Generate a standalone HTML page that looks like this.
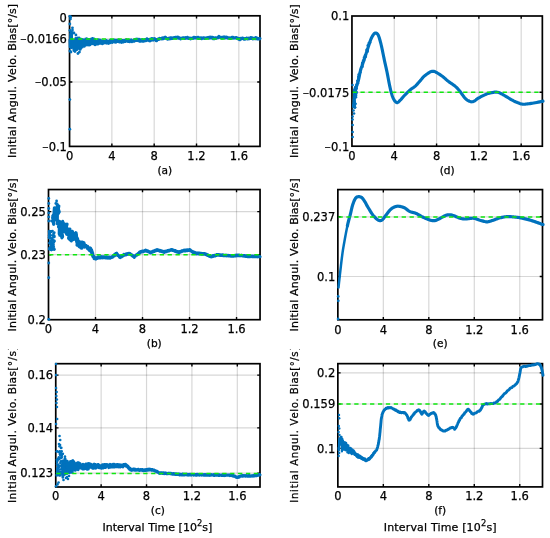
<!DOCTYPE html>
<html lang="en"><head><meta charset="utf-8"><title>Initial angular velocity bias estimation</title>
<style>
html,body{margin:0;padding:0;background:#fff;}
body{width:550px;height:538px;overflow:hidden;font-family:"DejaVu Sans", "Liberation Sans", sans-serif;}
svg{display:block;}
text{white-space:pre;stroke:#000;stroke-width:.25px;}
</style></head><body>
<svg width="550" height="538" viewBox="0 0 550 538" font-family='"DejaVu Sans", "Liberation Sans", sans-serif' fill="#000">
<defs><clipPath id="clipc"><rect x="0" y="349.5" width="550" height="200"/></clipPath></defs>
<g stroke="#000" stroke-opacity="0.155" stroke-width="1.2" fill="none"><line x1="111.87" y1="15.8" x2="111.87" y2="146.4"/><line x1="154.19" y1="15.8" x2="154.19" y2="146.4"/><line x1="196.52" y1="15.8" x2="196.52" y2="146.4"/><line x1="238.84" y1="15.8" x2="238.84" y2="146.4"/><line x1="69.55" y1="38.9" x2="260" y2="38.9"/><line x1="69.55" y1="82" x2="260" y2="82"/></g>
<rect x="69.55" y="15.8" width="190.45" height="130.6" fill="none" stroke="#000" stroke-width="1.7"/>
<path d="M111.87 146.4v-2.8M111.87 15.8v2.8M154.19 146.4v-2.8M154.19 15.8v2.8M196.52 146.4v-2.8M196.52 15.8v2.8M238.84 146.4v-2.8M238.84 15.8v2.8M69.55 38.9h2.8M260 38.9h-2.8M69.55 82h2.8M260 82h-2.8" stroke="#000" stroke-width="1.4" fill="none"/>
<path d="M69.95 39.93 L70.2 47.11 L70.45 44.62 L70.7 33.25 L70.95 35.78 L71.2 47.71 L71.45 31.88 L71.7 46.95 L71.95 46.84 L72.2 42.04 L72.45 40.18 L72.7 40.75 L72.95 41.12 L73.2 43.5 L73.45 44.25 L73.7 45.05 L73.95 50.48 L74.2 47.83 L74.45 45.75 L74.7 50.54 L74.95 40.68 L75.2 40.1 L75.45 45.78 L75.7 38.45 L75.95 38.41 L76.2 44.54 L76.45 44.04 L76.7 49.69 L76.95 46 L77.2 44.57 L77.45 44.3 L77.7 40.98 L77.95 37.92 L78.2 40.2 L78.45 47.04 L78.7 40.56 L78.95 42.7 L79.2 37.92 L79.45 48.69 L79.7 39.8 L79.95 41.54 L80.2 49.36 L80.45 44.4 L80.7 48.41 L80.95 45.67 L81.2 46.6 L81.45 39.27 L81.7 43.97 L81.95 43.62 L82.2 47.05 L82.45 42.29 L82.7 44.35 L82.95 39.8 L83.2 42.25 L83.45 41.75 L83.7 40.17 L83.95 45.27 L84.2 41.56 L84.45 46.17 L84.7 42.97 L84.95 42.83 L85.2 42.78 L85.45 43.01 L85.7 39.03 L85.95 41.1 L86.2 39.76 L86.45 40.92 L86.7 38.78 L86.95 45 L87.2 39.7 L87.45 42.9 L87.7 40.49 L87.95 44.53 L88.2 43.15 L88.45 39.43 L88.7 44.41 L88.95 45.04 L89.2 44.69 L89.45 42.48 L89.7 39.52 L89.95 39.83 L90.2 44.63 L90.45 41.9 L90.7 39.14 L90.95 43.72 L91.2 42.21 L91.45 41.81 L91.7 40.37 L91.95 40.65 L92.2 39.71 L92.45 38.55 L92.7 43.73 L92.95 41.26 L93.2 41.83 L93.45 40.63 L93.7 43.18 L93.95 38.91 L94.2 41.05 L94.45 39.14 L94.7 39.94 L94.95 44.69 L95.2 42.95 L95.45 41.57 L95.7 42.07 L95.95 44.22 L96.2 41.4 L96.45 42.69 L96.7 43.24 L96.95 41.64 L97.2 42.44 L97.45 43.59 L97.7 44.01 L97.95 40.33 L98.2 43.99 L98.45 39.64 L98.7 43.26 L98.95 43.31 L99.2 40.24 L99.45 41.45 L99.7 43.26 L99.95 39.93 L100.2 42.52 L100.45 43.25 L100.7 42.23 L100.95 43.26 L101.2 41.16 L101.45 41.04 L101.7 41.6 L101.95 40.94 L102.2 41.46 L102.45 43.79 L102.7 42.3 L102.95 41.28 L103.2 40.97 L103.45 43.16 L103.7 41.41 L103.95 43.08 L104.2 41.54 L104.45 41.53 L104.7 42.69 L104.95 42.03 L105.2 41.59 L105.45 41 L105.7 42.45 L105.95 41.26 L106.2 42.92 L106.45 40.52 L106.7 41.62 L106.95 41.8 L107.2 43.11 L107.45 41.28 L107.7 42.65 L107.95 42.46 L108.2 42.54 L108.45 42.51 L108.7 43.34 L108.95 41.35 L109.2 41.36 L109.45 40.92 L109.7 40.46 L109.95 40.92 L110.2 42.68 L110.45 42.15 L110.7 40.47 L110.95 41.68 L111.2 41.38 L111.45 41.54 L111.7 41.76 L111.95 40.91 L112.2 42.4 L112.45 41.11 L112.7 41.59 L112.95 41.44 L113.2 40.52 L113.45 40.36 L113.7 40.99 L113.95 41.84 L114.2 41.92 L114.45 41.6 L114.7 40.09 L114.95 41.97 L115.2 41.88 L115.45 42.01 L115.7 41.16 L115.95 42.17 L116.2 40.17 L116.45 40.22 L116.7 40.29 L116.95 40.61 L117.2 40.57 L117.45 40.56 L117.7 41.35 L117.95 40.17 L118.2 41.1 L118.45 40.41 L118.7 41.36 L118.95 40.13 L119.2 40.83 L119.45 42 L119.7 41.46 L119.95 41.92 L120.2 41.74 L120.45 41.62 L120.7 41.02 L120.95 41.9 L121.2 40.79 L121.45 41.98 L121.7 42.3 L121.95 42.09 L122.2 40.6 L122.45 41.05 L122.7 40.85 L122.95 40.61 L123.2 41.45 L123.45 41.87 L123.7 40.63 L123.95 41.52 L124.2 41.48 L124.45 40.44 L124.7 41.5 L124.95 41.56 L125.2 40.29 L125.45 40.88 L125.7 40.88 L125.95 40.62 L126.2 39.7 L126.45 40.66 L126.7 40.89 L126.95 41.16 L127.2 41.3 L127.45 40.35 L127.7 41.07 L127.95 41.45 L128.2 41.55 L128.45 40.28 L128.7 40.09 L128.95 41.33 L129.2 40.54 L129.45 41.04 L129.7 41.73 L129.95 40.68 L130.2 40.39 L130.45 40.68 L130.7 41.08 L130.95 40.05 L131.2 40.42 L131.45 40.18 L131.7 41.17 L131.95 41.64 L132.2 40.89 L132.45 40.9 L132.7 41.07 L132.95 40.55 L133.2 40.57 L133.45 40.79 L133.7 40.95 L133.95 40.08 L134.2 41.3 L134.45 40.61 L134.7 40.1 L134.95 39.48 L135.2 40.56 L135.45 39.46 L135.7 39.51 L135.95 39.34 L136.2 39.09 L136.45 40.47 L136.7 39.17 L136.95 39.3 L137.2 40.4 L137.45 40.11 L137.7 39.35 L137.95 39.73 L138.2 40.62 L138.45 39.69 L138.7 40.26 L138.95 39.32 L139.2 40.75 L139.45 40.95 L139.7 41.22 L139.95 40.94 L140.2 40.29 L140.45 39.79 L140.7 40.61 L140.95 41.14 L141.2 40.22 L141.45 40.2 L141.7 40.65 L141.95 41.04 L142.2 41.11 L142.45 39.62 L142.7 39.67 L142.95 40.73 L143.2 40.39 L143.45 40.75 L143.7 41.25 L143.95 41.04 L144.2 40.62 L144.45 40.63 L144.7 40.03 L144.95 40.31 L145.2 39.44 L145.45 40.61 L145.7 40.69 L145.95 40.69 L146.2 40.07 L146.45 39.59 L146.7 39.49 L146.95 38.68 L147.2 40.26 L147.45 39.68 L147.7 39.34 L147.95 39.84 L148.2 40.3 L148.45 39.5 L148.7 40.29 L148.95 40.56 L149.2 39.62 L149.45 39.21 L149.7 40.36 L149.95 40.82 L150.2 39.34 L150.45 40.19 L150.7 40.24 L150.95 40.21 L151.2 38.64 L151.45 38.68 L151.7 40.22 L151.95 38.52 L152.2 38.78 L152.45 39.38 L152.7 39.16 L152.95 39.76 L153.2 38.66 L153.45 40.12 L153.7 38.94 L153.95 39.83 L154.2 38.74 L154.45 39.43 L154.7 38.62 L154.95 39.26 L155.2 39.36 L155.45 40.06 L155.7 39.66 L155.95 39.31 L156.2 40.81 L156.45 40.63 L156.7 40.72 L156.95 39.71 L157.2 39.84 L157.45 39.51 L157.7 39.48 L157.95 39.13 L158.2 39.51 L158.45 38.92 L158.7 38.9 L158.95 39.47 L159.2 38.8 L159.45 38.39 L159.7 39.01 L159.95 38.5 L160.2 38.81 L160.45 38.48 L160.7 38.63 L160.95 38.7 L161.2 38.61 L161.45 38.38 L161.7 38.9 L161.95 39 L162.2 38.11 L162.45 37.93 L162.7 37.82 L162.95 38.77 L163.2 38.62 L163.45 37.93 L163.7 38.67 L163.95 37.68 L164.2 37.86 L164.45 37.77 L164.7 38.08 L164.95 37.28 L165.2 37.67 L165.45 37.88 L165.7 37.34 L165.95 37.64 L166.2 37.96 L166.45 38.27 L166.7 38.31 L166.95 38.78 L167.2 38.89 L167.45 39.02 L167.7 39.19 L167.95 38.98 L168.2 38.93 L168.45 38.51 L168.7 38.45 L168.95 38.8 L169.2 38.17 L169.45 38.93 L169.7 38.72 L169.95 38.16 L170.2 38.64 L170.45 37.83 L170.7 38.19 L170.95 37.81 L171.2 38.68 L171.45 38.31 L171.7 38.39 L171.95 37.87 L172.2 38.44 L172.45 38.33 L172.7 37.98 L172.95 38.32 L173.2 37.82 L173.45 37.86 L173.7 38.04 L173.95 38.07 L174.2 37.45 L174.45 37.75 L174.7 37.58 L174.95 37.8 L175.2 37.94 L175.45 37.26 L175.7 37.96 L175.95 37.22 L176.2 38.14 L176.45 37.61 L176.7 37.59 L176.95 37.76 L177.2 37.7 L177.45 37.93 L177.7 37.1 L177.95 37.78 L178.2 37.86 L178.45 38.28 L178.7 37.39 L178.95 37.95 L179.2 38.23 L179.45 38.24 L179.7 37.9 L179.95 38.56 L180.2 38.18 L180.45 38.3 L180.7 38.9 L180.95 38.22 L181.2 38.37 L181.45 38.55 L181.7 38.39 L181.95 38.08 L182.2 38.22 L182.45 37.86 L182.7 37.98 L182.95 38.17 L183.2 38.03 L183.45 37.85 L183.7 37.77 L183.95 37.87 L184.2 37.81 L184.45 38.33 L184.7 38.12 L184.95 38.14 L185.2 38.35 L185.45 37.9 L185.7 37.54 L185.95 38.14 L186.2 37.73 L186.45 38.12 L186.7 38.08 L186.95 37.88 L187.2 38.05 L187.45 37.17 L187.7 37.49 L187.95 38.1 L188.2 37.95 L188.45 38.16 L188.7 38.47 L188.95 38.46 L189.2 38.47 L189.45 38.49 L189.7 38.07 L189.95 38.05 L190.2 38.11 L190.45 38.26 L190.7 38.92 L190.95 38.23 L191.2 38.18 L191.45 38.13 L191.7 38.28 L191.95 38.55 L192.2 38.45 L192.45 37.99 L192.7 38.04 L192.95 38.43 L193.2 37.96 L193.45 38.14 L193.7 37.38 L193.95 38.19 L194.2 37.83 L194.45 37.84 L194.7 37.39 L194.95 37.76 L195.2 38.03 L195.45 37.83 L195.7 37.47 L195.95 38 L196.2 37.7 L196.45 37.72 L196.7 37.93 L196.95 37.49 L197.2 37.51 L197.45 37.99 L197.7 38.1 L197.95 37.26 L198.2 37.94 L198.45 38.36 L198.7 37.92 L198.95 37.63 L199.2 38.28 L199.45 37.78 L199.7 38.26 L199.95 38.16 L200.2 38.5 L200.45 38.1 L200.7 38.31 L200.95 38.28 L201.2 38.43 L201.45 37.83 L201.7 38.74 L201.95 38.01 L202.2 38.12 L202.45 38.21 L202.7 37.98 L202.95 38.12 L203.2 38.24 L203.45 38.02 L203.7 37.72 L203.95 37.64 L204.2 37.88 L204.45 38.3 L204.7 38.06 L204.95 38.53 L205.2 38.17 L205.45 37.99 L205.7 38.12 L205.95 38.25 L206.2 37.91 L206.45 37.95 L206.7 38.12 L206.95 38.1 L207.2 37.68 L207.45 37.84 L207.7 37.89 L207.95 37.4 L208.2 37.4 L208.45 37.52 L208.7 37.48 L208.95 38.21 L209.2 37.31 L209.45 37.51 L209.7 37.37 L209.95 37.59 L210.2 37.06 L210.45 37.58 L210.7 37.42 L210.95 37.47 L211.2 37.99 L211.45 37.23 L211.7 37.9 L211.95 37.76 L212.2 37.82 L212.45 38.13 L212.7 37.35 L212.95 38.37 L213.2 38.64 L213.45 38.47 L213.7 37.86 L213.95 38.46 L214.2 38.29 L214.45 38.69 L214.7 37.93 L214.95 38.46 L215.2 38.41 L215.45 37.78 L215.7 38.14 L215.95 37.83 L216.2 38.29 L216.45 38.19 L216.7 38.16 L216.95 37.69 L217.2 37.71 L217.45 37.5 L217.7 37.46 L217.95 37.68 L218.2 37.21 L218.45 36.74 L218.7 36.88 L218.95 36.42 L219.2 37.32 L219.45 37.27 L219.7 36.95 L219.95 37.5 L220.2 37.5 L220.45 37.19 L220.7 37.13 L220.95 37.31 L221.2 37.38 L221.45 37.52 L221.7 37.66 L221.95 38.11 L222.2 37.2 L222.45 37.83 L222.7 37.73 L222.95 37.86 L223.2 37.4 L223.45 37.11 L223.7 37.74 L223.95 37.11 L224.2 37.08 L224.45 37.85 L224.7 37.66 L224.95 37.01 L225.2 37.15 L225.45 37.93 L225.7 37.39 L225.95 37.56 L226.2 37.3 L226.45 37.79 L226.7 37.17 L226.95 37.81 L227.2 37.47 L227.45 37.92 L227.7 38.15 L227.95 37.68 L228.2 37.82 L228.45 37.99 L228.7 37.95 L228.95 37.93 L229.2 38.15 L229.45 38.01 L229.7 38.43 L229.95 37.93 L230.2 38.42 L230.45 38.3 L230.7 38.41 L230.95 38.02 L231.2 38.22 L231.45 38.28 L231.7 37.77 L231.95 37.3 L232.2 38.01 L232.45 37.86 L232.7 37.44 L232.95 37.91 L233.2 37.37 L233.45 37.67 L233.7 38.08 L233.95 37.69 L234.2 37.83 L234.45 37.9 L234.7 37.66 L234.95 37.78 L235.2 37.87 L235.45 37.94 L235.7 37.62 L235.95 37.91 L236.2 37.65 L236.45 38 L236.7 38.19 L236.95 37.81 L237.2 38.27 L237.45 38.42 L237.7 38.05 L237.95 38.33 L238.2 39.06 L238.45 38.67 L238.7 39.13 L238.95 38.51 L239.2 39.19 L239.45 39.56 L239.7 39.69 L239.95 38.69 L240.2 38.91 L240.45 38.59 L240.7 38.98 L240.95 38.18 L241.2 38.37 L241.45 38.83 L241.7 38.34 L241.95 38.21 L242.2 38.53 L242.45 38.03 L242.7 37.93 L242.95 38.46 L243.2 38.23 L243.45 38.39 L243.7 38.7 L243.95 39.24 L244.2 38.81 L244.45 38.57 L244.7 38.61 L244.95 39.02 L245.2 39.16 L245.45 38.94 L245.7 38.95 L245.95 38.63 L246.2 38.2 L246.45 38.36 L246.7 38.44 L246.95 38.02 L247.2 38.59 L247.45 39.01 L247.7 38.36 L247.95 38.53 L248.2 38.8 L248.45 38.31 L248.7 38.09 L248.95 38.29 L249.2 38.48 L249.45 38.71 L249.7 38.54 L249.95 38.01 L250.2 38.52 L250.45 38.56 L250.7 37.56 L250.95 37.81 L251.2 37.77 L251.45 38.49 L251.7 38.57 L251.95 37.69 L252.2 38.01 L252.45 37.92 L252.7 38.4 L252.95 38.97 L253.2 38.22 L253.45 38.33 L253.7 38.58 L253.95 38.46 L254.2 38.51 L254.45 38.24 L254.7 38.01 L254.95 38.23 L255.2 38.77 L255.45 38.44 L255.7 37.53 L255.95 38.22 L256.2 37.81 L256.45 38.39 L256.7 37.83 L256.95 38.81 L257.2 38.23 L257.45 38.58 L257.7 39.03 L257.95 38.72 L258.2 38.54 L258.45 38.67 L258.7 38.94 L258.95 38.64 L259.2 38.85 L259.45 38.55 L259.7 38.82 L259.95 38.5" fill="none" stroke="#0072bd" stroke-width="3.0" stroke-linejoin="round" stroke-linecap="round"/>
<g fill="#0072bd"><circle cx="69.85" cy="16.3" r="1.4"/><circle cx="69.85" cy="24" r="1.4"/><circle cx="69.85" cy="30.5" r="1.4"/><circle cx="69.85" cy="51" r="1.4"/><circle cx="69.85" cy="99.6" r="1.4"/><circle cx="69.85" cy="129.2" r="1.4"/><circle cx="70.75" cy="17" r="1.4"/><circle cx="70.45" cy="19" r="1.4"/><circle cx="72.45" cy="27.8" r="1.4"/><circle cx="72.95" cy="32.9" r="1.4"/><circle cx="72.45" cy="30" r="1.4"/><circle cx="73.95" cy="33" r="1.4"/><circle cx="75.95" cy="35" r="1.4"/><circle cx="70.95" cy="52" r="1.4"/><circle cx="77.95" cy="53.5" r="1.4"/><circle cx="79.45" cy="52" r="1.4"/><circle cx="74.95" cy="51.5" r="1.4"/></g>
<line x1="70.15" y1="38.9" x2="259.4" y2="38.9" stroke="#10e810" stroke-width="1.5" stroke-dasharray="4.3 3.6"/>
<g font-size="11.5"><text x="69.55" y="160" text-anchor="middle">0</text><text x="111.87" y="160" text-anchor="middle">4</text><text x="154.19" y="160" text-anchor="middle">8</text><text x="196.52" y="160" text-anchor="middle">1.2</text><text x="238.84" y="160" text-anchor="middle">1.6</text><text x="66.95" y="21.6" text-anchor="end">0</text><text x="66.95" y="43" text-anchor="end"><tspan font-size="8.0" dy="-0.85">−</tspan><tspan dy="0.85">0.0166</tspan></text><text x="66.95" y="86" text-anchor="end"><tspan font-size="8.0" dy="-0.85">−</tspan><tspan dy="0.85">0.05</tspan></text><text x="66.95" y="151.2" text-anchor="end"><tspan font-size="8.0" dy="-0.85">−</tspan><tspan dy="0.85">0.1</tspan></text></g>
<text x="164.78" y="173.9" text-anchor="middle" font-size="10.6">(a)</text>
<g><g transform="translate(15.6 158) rotate(-90)" font-size="11.0"><text x="0" y="0" textLength="107.2" lengthAdjust="spacing">Initial Angul. Velo. </text><text x="107.2" y="0" textLength="46.8" lengthAdjust="spacing">Bias[°/s]</text></g></g>
<g stroke="#000" stroke-opacity="0.155" stroke-width="1.2" fill="none"><line x1="95.51" y1="189.55" x2="95.51" y2="319.7"/><line x1="142.52" y1="189.55" x2="142.52" y2="319.7"/><line x1="189.53" y1="189.55" x2="189.53" y2="319.7"/><line x1="236.54" y1="189.55" x2="236.54" y2="319.7"/><line x1="48.5" y1="211.6" x2="260.05" y2="211.6"/><line x1="48.5" y1="254.7" x2="260.05" y2="254.7"/></g>
<rect x="48.5" y="189.55" width="211.55" height="130.15" fill="none" stroke="#000" stroke-width="1.7"/>
<path d="M95.51 319.7v-2.8M95.51 189.55v2.8M142.52 319.7v-2.8M142.52 189.55v2.8M189.53 319.7v-2.8M189.53 189.55v2.8M236.54 319.7v-2.8M236.54 189.55v2.8M48.5 211.6h2.8M260.05 211.6h-2.8M48.5 254.7h2.8M260.05 254.7h-2.8" stroke="#000" stroke-width="1.4" fill="none"/>
<path d="M53.66 224.27 L53.32 222.14 L54.37 219.22 L53.58 220.41 L52.84 215.83 L53.44 221.18 L54.59 219.65 L54.1 212.56 L54.41 207.82 L54.56 218.09 L54.23 209.76 L54.17 214.06 L54.26 216.46 L56.04 215.14 L55.35 215.7 L55.89 209.24 L57.32 214.53 L56.73 208.08 L57.41 205.27 L57.49 209.35 L58.19 207.47 L56.06 214.86 L57.09 216.28 L58.8 205.98 L57.7 206.89 L59.2 211.92 L57.35 214.79 L57.21 223.68 L59.68 225.05 L58.56 227 L59.02 225.24 L60.4 225.97 L58.62 221.85 L60.9 224.78 L59.51 221.35 L59.29 233.89 L59.46 228.09 L60.45 225.84 L60.51 229.22 L61.87 229.62 L59.76 235.14 L59.94 226.11 L60.44 229.34 L61.89 237.82 L62.57 236.61 L61.94 233.01 L62.51 231.43 L62.79 226.39 L61.29 234.21 L62.11 232.06 L64.35 228.17 L62.74 223.43 L64.6 223.97 L63.58 225.93 L63.06 225.14 L62.67 221.46 L63.45 225.78 L63.93 226.17 L64.44 223.9 L64.66 225 L65.13 224.63 L65.13 225.51 L64.17 228.9 L64.99 227.64 L67.01 224.19 L64.77 231.93 L66.81 228.72 L66.34 228.34 L67.14 231.79 L66.37 232.63 L66.67 234.17 L67.24 234.08 L68.45 232.78 L67.16 233.78 L66.74 227.64 L66.83 234.28 L69.17 229.61 L67.93 230.07 L67.64 229.03 L69.04 232.66 L69.87 229.07 L69.45 236.57 L68.53 238.07 L69.37 238.88 L69.22 232.54 L68.8 238.48 L71.35 240.82 L70.3 232.84 L69.7 234.8 L71.74 235.89 L72.19 238.16 L71.97 235.59 L70.8 239.13 L70.85 236.71 L71.86 239.27 L72.2 237.55 L73.11 238.55 L73.52 233.81 L73.58 237.91 L72.42 238.02 L73.2 237.74 L72.31 231.44 L73.44 239.53 L72.58 235.93 L72.88 232.96 L73.11 234.49 L73.73 235.44 L73.95 235.63 L75.08 233.39 L73.81 233.74 L74.1 234.82 L75.56 238.69 L75.8 235.86 L76.08 232.73 L76.31 236.79 L76.37 235.12 L76.32 234.01 L76.95 242.61 L75.65 237.35 L76.15 239.84 L77.54 238.84 L76.51 236.9 L77.47 244.3 L77.06 245.09 L77.65 239.65 L78.74 242.02 L78.56 242.21 L78.28 241.16 L78.1 245.41 L79.47 246.64 L79.34 246.79 L79.07 246.48 L80.2 241.93 L80.02 243.85 L80.84 246.05 L80.36 247.29 L81.06 244.92 L80.51 245.26 L81.05 247.85 L81.53 242.15 L80.13 243.73 L81.15 243.78 L81.62 248.26 L80.67 243.23 L82.41 242.08 L82.45 244.36 L83.11 245.75 L82.13 242.71 L82.54 246.74 L83.65 242.93 L82.82 245.81 L83.89 242.7 L83.24 246.65 L83.27 242.89 L83.35 245.89 L83.42 246.59 L84.06 243.74 L83.72 243.09 L85.26 245.77 L85.75 245.5 L84.19 245.56 L84.32 247.21 L84.44 245.82 L86.42 246.15 L85 246.27 L86.33 246.29 L85.85 246.27 L85.86 245.35 L86.16 246.18 L87.12 246.25 L86.19 246.39 L87.8 248.93 L87.51 246.24 L87.18 246.85 L87.35 248.41 L88.24 247.73 L88.39 247.49 L88.14 248.09 L88.36 248.65 L88.75 249.37 L89.56 250.56 L89.25 250.13 L89.84 248.57 L89.78 248.7 L89.88 248.62 L89.99 248.04 L90.41 250.72 L90.39 247.98 L90.85 248.76 L90.46 250.51 L90.82 250.55 L91.58 249.93 L91.3 252.06 L91.92 251.08 L92.2 252.19 L92.07 251.6 L91.86 254.11 L92.61 252.99 L92.73 254.27 L92.64 255.76 L93.26 256.25 L93.19 256.6 L93.11 256.89 L93.33 256.27 L93.64 256.36 L94.06 257.52 L94.37 257.01 L94.2 258.68 L94.38 257.24 L94.85 257.93 L94.96 257.89 L95.18 257.74 L95.53 258.56 L95.77 257.81 L95.99 259.02 L96.11 258.6 L96 258.03 L96.26 258.67 L96.63 258.51 L96.98 257.73 L96.83 258.41 L97.21 258.44 L97.36 257.92 L97.56 257.45 L97.71 258.14 L97.91 258.11 L98.1 257.28 L98.24 256.93 L98.62 257.96 L98.78 257.67 L99.08 257.11 L99.25 257.52 L99.58 257.19 L99.54 257.94 L99.95 257.22 L99.96 257.04 L100.26 256.84 L100.52 257.19 L100.56 257.95 L100.78 257.02 L101.05 257.3 L101.05 257.9 L101.41 256.74 L101.44 257.08 L101.69 257.69 L102.05 256.82 L102.38 257.79 L102.59 257.67 L102.51 256.85 L102.67 257.37 L103.01 257.31 L103.18 257.47 L103.35 257 L103.7 257.09 L103.88 256.91 L104.02 256.96 L104.25 256.84 L104.43 257.7 L104.67 257.7 L104.96 257.11 L105.17 257.51 L105.38 257.29 L105.53 257.07 L105.45 257.16 L105.78 257.88 L106.11 257.19 L106.12 257.47 L106.44 257.91 L106.43 257.19 L106.69 257.78 L106.96 257.01 L107.04 257.73 L107.37 257.83 L107.5 257.88 L107.93 258.05 L107.93 257.77 L108.16 258.08 L108.51 257.32 L108.62 257.61 L108.64 257.28 L108.9 257.15 L109.24 257.57 L109.29 257.89 L109.51 257.97 L109.84 257.15 L110 258.19 L110.12 257.34 L110.42 257.31 L110.65 257.82 L110.63 257.81 L110.92 257.56 L111.13 257.04 L111.54 257.1 L111.44 257.42 L111.75 256.83 L111.89 257.23 L112.27 257.12 L112.51 256.71 L112.44 257.09 L112.93 256.46 L113.07 256.77 L113.1 256.47 L113.55 255.97 L113.53 256 L113.9 255.91 L113.85 255.66 L114.18 255.03 L114.4 255.78 L114.74 255.58 L114.92 254.43 L115.02 255.2 L115.04 254.59 L115.38 253.99 L115.56 254.54 L115.97 253.96 L116.06 254.07 L116.17 254.02 L116.35 253.54 L116.69 253.26 L116.66 254.28 L117.11 254.37 L117.26 254.81 L117.38 254.38 L117.67 255.13 L117.76 255.44 L117.88 255.13 L118.17 255.41 L118.25 255.55 L118.46 255.44 L118.78 255.9 L119.11 256.22 L119.1 256.22 L119.4 257.1 L119.76 256.98 L119.91 257.35 L120.14 257.28 L120.26 257.22 L120.43 257.48 L120.63 257.06 L120.83 257.05 L120.99 256.74 L121.15 256.74 L121.31 256.93 L121.45 256.18 L121.76 256.29 L122.09 256.32 L122.22 255.59 L122.29 256.31 L122.7 255.72 L122.65 255.34 L123.14 255.7 L123.25 255.62 L123.42 255.3 L123.57 255.44 L123.91 254.5 L123.84 254.88 L124.04 255.04 L124.41 255.16 L124.53 254.85 L124.77 254.76 L125.01 254.51 L125.05 254.64 L125.56 254.57 L125.66 254.86 L125.67 254.73 L126.08 254.6 L126.21 254.73 L126.46 253.88 L126.68 254.49 L126.96 254.15 L126.88 254.37 L127.36 253.9 L127.39 254.02 L127.5 254.3 L127.76 253.52 L127.96 253.71 L128.33 253.85 L128.41 254.13 L128.46 253.55 L128.87 254.01 L129 253.43 L129.3 253.44 L129.26 253.62 L129.72 253.66 L129.92 253.92 L129.85 254.07 L130.19 253.65 L130.28 254.25 L130.61 254.3 L130.67 254.23 L131.12 254.73 L131.1 254.99 L131.45 254.77 L131.65 255.3 L131.74 254.76 L131.91 254.94 L132.33 255.62 L132.26 255.37 L132.52 255.77 L132.75 255.84 L133.03 255.69 L133.16 256.37 L133.28 256.5 L133.62 256.14 L133.87 256.39 L134.06 257.01 L134.2 257.25 L134.34 257.05 L134.45 256.58 L134.81 256.3 L135.04 256.21 L135.18 255.82 L135.54 255.92 L135.51 255.54 L135.89 255.32 L136.07 255.34 L136.32 254.91 L136.53 255.09 L136.52 255.12 L136.93 254.92 L136.97 255.03 L137.25 254.79 L137.53 254.42 L137.63 254.47 L137.82 253.94 L137.87 254.07 L138.23 253.48 L138.32 253.52 L138.57 253.73 L138.76 253.25 L139.14 253.02 L139.24 253.08 L139.47 252.53 L139.5 252.79 L139.74 251.98 L140.11 251.99 L140.09 251.89 L140.53 251.89 L140.58 252.39 L140.77 251.59 L141 251.76 L141.18 251.92 L141.39 251.97 L141.58 251.96 L141.86 251.6 L141.94 251.41 L142.1 251.86 L142.38 251.22 L142.48 251.12 L142.79 251.19 L143 251.34 L143.28 251.64 L143.29 251.42 L143.57 251.23 L143.88 251.14 L143.95 251.22 L144.29 251.11 L144.46 250.82 L144.47 250.57 L144.77 250.6 L145.07 251.01 L145.21 250.83 L145.45 250.91 L145.74 250.25 L145.85 250.87 L146.01 250.41 L146.3 250.92 L146.38 250.75 L146.47 250.8 L146.74 251.1 L147.03 251.03 L147.32 251.16 L147.43 250.84 L147.54 251.28 L147.93 251.17 L147.97 251.04 L148.13 251.17 L148.41 251.53 L148.56 251.44 L148.7 251.93 L149.06 251.51 L149.25 251.51 L149.53 252.37 L149.5 251.92 L149.91 252.16 L150.08 252.01 L150.13 252.1 L150.39 252.34 L150.63 252.73 L150.75 252.06 L150.9 252.61 L151.29 252.66 L151.31 252.24 L151.6 252.01 L151.78 251.84 L152.11 251.72 L152.22 251.76 L152.38 252.09 L152.72 251.36 L152.76 251.89 L153.06 251.72 L153.13 251.14 L153.47 251.1 L153.66 251.55 L153.88 251.42 L154 251.07 L154.13 251.42 L154.43 250.84 L154.7 250.93 L154.75 250.61 L154.88 250.95 L155.12 250.44 L155.51 250.43 L155.47 250.81 L155.69 250.53 L155.9 250.58 L156.3 250.56 L156.37 250.39 L156.65 249.99 L156.85 250.3 L156.98 249.78 L157.26 249.82 L157.39 250.02 L157.61 249.82 L157.75 249.87 L157.88 250.35 L158.22 250.48 L158.34 250.25 L158.54 250.33 L158.89 250.25 L158.97 250.55 L159.1 250.65 L159.43 250.98 L159.61 250.35 L159.69 251.08 L159.96 251.2 L160.23 250.76 L160.35 251.11 L160.72 251.25 L160.87 251.17 L161 250.96 L161.3 251.27 L161.29 251.52 L161.53 250.99 L161.9 251.34 L162 251.05 L162.12 251.73 L162.42 251.74 L162.65 251.24 L162.82 251.83 L162.89 251.85 L163.09 251.48 L163.38 251.84 L163.49 252.03 L163.7 251.82 L164.03 252 L164.19 252.3 L164.3 251.99 L164.69 251.83 L164.77 251.44 L165.09 251.43 L165.23 251.92 L165.43 251.78 L165.58 251.79 L165.84 251.54 L165.94 251.48 L166.14 251.39 L166.49 251.49 L166.53 251.12 L166.77 251.19 L167.06 251.11 L167.16 251.2 L167.37 250.81 L167.69 250.61 L167.73 250.6 L167.94 250.61 L168.29 251.06 L168.35 250.9 L168.56 250.87 L168.88 250.58 L168.96 250.26 L169.31 250.48 L169.47 250.72 L169.68 250.4 L169.74 250.43 L169.94 250.18 L170.25 249.96 L170.47 250.25 L170.54 250.09 L170.74 249.93 L170.94 249.81 L171.12 250.08 L171.38 249.74 L171.6 249.87 L171.83 249.58 L171.91 249.89 L172.13 249.68 L172.32 249.84 L172.55 250.25 L172.73 250.17 L173.09 250.26 L173.17 250.04 L173.32 250.49 L173.63 250.23 L173.9 250.75 L174.06 250.76 L174.23 250.66 L174.37 250.86 L174.58 250.73 L174.76 250.94 L175.06 250.57 L175.26 251.29 L175.4 251.22 L175.67 250.81 L175.83 250.96 L176.04 251.28 L176.15 251.5 L176.35 251.12 L176.54 251.8 L176.88 251.42 L177.06 251.98 L177.28 251.87 L177.46 251.75 L177.66 251.74 L177.79 251.62 L178.05 251.69 L178.13 252.17 L178.43 252.35 L178.51 252.52 L178.89 252.2 L179.07 252.55 L179.13 252.01 L179.45 252.41 L179.66 252.32 L179.71 251.69 L180.01 252.14 L180.18 251.95 L180.42 251.88 L180.67 251.91 L180.84 251.61 L180.94 251.52 L181.21 251.35 L181.41 251.64 L181.51 251.59 L181.73 250.98 L181.97 251.36 L182.14 250.92 L182.35 250.78 L182.63 250.72 L182.89 250.92 L182.99 250.64 L183.23 250.59 L183.45 250.46 L183.63 250.6 L183.83 250.9 L183.91 250.33 L184.27 250.64 L184.34 250.71 L184.54 250.28 L184.8 250.44 L185.02 250.86 L185.25 250.9 L185.36 250.77 L185.68 250.25 L185.82 250.66 L186.06 250.41 L186.2 250.18 L186.32 250.38 L186.51 250.68 L186.82 250.62 L186.99 250.24 L187.19 249.98 L187.37 250.56 L187.54 250.6 L187.8 250.24 L187.96 250.01 L188.27 250.21 L188.34 250.3 L188.68 250.12 L188.86 250 L188.98 249.9 L189.25 249.91 L189.41 249.71 L189.59 249.84 L189.85 250.39 L190.06 249.83 L190.15 250.47 L190.47 250.63 L190.52 250.48 L190.72 250.73 L191 250.59 L191.17 251.03 L191.39 251.18 L191.6 251.32 L191.79 251.27 L192.07 251.73 L192.27 251.78 L192.37 251.69 L192.57 251.89 L192.83 251.72 L192.95 252.32 L193.18 252.19 L193.44 252.45 L193.52 252.1 L193.84 252.68 L194.04 252.14 L194.18 252.53 L194.36 252.32 L194.61 252.46 L194.77 252.95 L195.05 252.54 L195.21 252.85 L195.37 252.8 L195.65 253.35 L195.82 252.89 L195.94 253.16 L196.19 253.61 L196.4 253.54 L196.67 253.56 L196.77 253.78 L196.99 253.11 L197.27 253.58 L197.39 253.65 L197.65 253.66 L197.74 253.65 L197.98 253.21 L198.15 253.23 L198.46 253.73 L198.61 253.63 L198.76 253.4 L198.94 253.24 L199.19 253.62 L199.34 253.32 L199.6 253.79 L199.83 253.52 L199.97 253.86 L200.15 253.38 L200.38 253.67 L200.55 253.41 L200.85 253.9 L200.94 253.76 L201.23 253.54 L201.38 254.06 L201.63 253.88 L201.84 253.65 L201.95 254.03 L202.24 253.71 L202.46 254.11 L202.61 253.68 L202.82 254.17 L202.98 253.54 L203.16 254.02 L203.43 253.73 L203.64 253.83 L203.76 253.99 L203.95 253.6 L204.18 253.74 L204.42 253.67 L204.58 254.12 L204.86 253.77 L205.04 253.98 L205.26 253.87 L205.41 253.87 L205.63 254.44 L205.86 254.24 L205.94 254.44 L206.21 254.57 L206.36 254.74 L206.64 254.45 L206.77 254.42 L207.03 254.78 L207.18 254.67 L207.42 254.66 L207.62 255.38 L207.85 255.27 L208.05 255.22 L208.19 255.12 L208.42 255.65 L208.56 255.59 L208.75 255.43 L209.03 256.08 L209.25 256.16 L209.43 256.23 L209.6 256.26 L209.82 256.15 L210.03 256.09 L210.21 256.42 L210.38 256.18 L210.64 256.59 L210.78 256.31 L211.05 256.37 L211.24 256.79 L211.43 256.48 L211.64 256.66 L211.86 256.66 L212.06 256.64 L212.2 256.43 L212.39 256.53 L212.63 256.34 L212.85 256.46 L213.01 256.38 L213.15 255.75 L213.35 255.84 L213.6 255.86 L213.83 255.71 L214.04 255.6 L214.19 256.02 L214.4 255.39 L214.6 255.43 L214.76 255.76 L214.95 255.34 L215.2 255.31 L215.4 255.73 L215.64 255.53 L215.77 255.26 L216.04 254.99 L216.18 255.02 L216.4 255.45 L216.62 255.26 L216.76 254.72 L217.05 255.09 L217.25 254.8 L217.45 254.98 L217.55 254.67 L217.81 254.58 L218.02 254.52 L218.24 254.72 L218.37 255.11 L218.56 255.15 L218.83 255.03 L218.98 255.09 L219.16 254.73 L219.36 254.85 L219.61 255.23 L219.8 255.31 L220.02 254.96 L220.23 255.2 L220.35 255.32 L220.64 255.38 L220.84 254.93 L221.04 255.18 L221.23 255.02 L221.39 255.09 L221.58 255.1 L221.84 255 L221.99 254.84 L222.2 255.35 L222.42 255.32 L222.62 255.43 L222.82 254.99 L223.01 255.07 L223.2 255.32 L223.42 255.56 L223.59 255.27 L223.78 255.11 L224.04 255.38 L224.23 255.64 L224.42 255.59 L224.57 255.63 L224.76 255.33 L225.04 255.24 L225.24 255.66 L225.38 255.62 L225.61 255.68 L225.76 255.4 L225.99 255.35 L226.22 255.33 L226.39 255.76 L226.62 255.81 L226.83 255.47 L226.97 255.82 L227.21 255.51 L227.39 255.57 L227.57 255.67 L227.79 255.46 L228 255.51 L228.23 255.52 L228.42 255.53 L228.56 255.72 L228.77 255.47 L229.04 255.93 L229.2 255.55 L229.41 255.74 L229.59 255.89 L229.82 255.58 L230 255.77 L230.21 255.89 L230.38 255.9 L230.62 256.13 L230.78 256.08 L230.97 255.67 L231.21 256.15 L231.42 255.98 L231.59 256.08 L231.79 255.76 L231.98 255.98 L232.21 256.11 L232.42 256.15 L232.58 256.13 L232.8 255.72 L233 256.1 L233.17 255.9 L233.4 255.95 L233.59 256.04 L233.78 255.73 L234.03 256.04 L234.17 255.99 L234.39 255.92 L234.61 255.62 L234.79 255.69 L234.97 255.44 L235.22 255.79 L235.38 255.85 L235.59 255.36 L235.82 255.71 L236.03 255.66 L236.22 255.21 L236.39 255.75 L236.61 255.45 L236.82 255.29 L236.98 255.12 L237.23 255.57 L237.38 255.27 L237.61 255.36 L237.79 255.13 L237.98 255.37 L238.18 255.25 L238.42 255.53 L238.58 255.46 L238.82 255.52 L238.98 255.24 L239.19 255.14 L239.39 255.67 L239.62 255.73 L239.78 255.56 L240.02 255.76 L240.19 255.64 L240.42 255.59 L240.61 255.49 L240.79 255.47 L241 255.58 L241.18 255.43 L241.4 255.58 L241.58 255.64 L241.81 255.36 L242 255.61 L242.19 255.56 L242.38 255.8 L242.62 255.93 L242.78 255.82 L242.99 255.87 L243.18 255.86 L243.4 255.66 L243.6 255.75 L243.8 256.06 L243.99 256.15 L244.19 255.69 L244.41 255.6 L244.59 256.21 L244.79 256.17 L245 256.03 L245.19 256.18 L245.41 256.06 L245.59 256.27 L245.79 255.88 L246 256.02 L246.19 256.18 L246.41 255.92 L246.6 256.25 L246.8 255.98 L247 256.28 L247.21 256.36 L247.39 256.14 L247.61 256.51 L247.81 256.31 L247.99 256.4 L248.19 255.97 L248.41 256.04 L248.59 256.43 L248.79 256.58 L248.99 256.39 L249.2 256.57 L249.41 256.04 L249.61 256.56 L249.8 256.55 L250 256.4 L250.21 256.28 L250.4 256.46 L250.61 256.18 L250.8 256.44 L251 256.46 L251.2 256.37 L251.39 256.2 L251.59 256.05 L251.79 256.17 L252.01 256.56 L252.21 256.19 L252.4 256.11 L252.59 256.22 L252.79 256.39 L253 256.43 L253.2 256.61 L253.4 256.6 L253.59 256.67 L253.8 256.63 L254 256.36 L254.19 256.18 L254.4 256.68 L254.6 256.24 L254.8 256.48 L255 256.27 L255.2 256.61 L255.4 256.24 L255.6 256.37 L255.8 256.26 L256 256.65 L256.2 256.51 L256.4 256.52 L256.6 256.33 L256.8 256.25 L257 256.66 L257.2 256.61 L257.4 256.6 L257.6 256.76 L257.8 256.5 L258 256.27 L258.2 256.53 L258.4 256.34 L258.6 256.48 L258.8 256.45 L259 256.52 L259.2 256.74 L259.4 256.68 L259.6 256.44 L259.8 256.69 L260 256.72" fill="none" stroke="#0072bd" stroke-width="3.2" stroke-linejoin="round" stroke-linecap="round"/>
<g fill="#0072bd"><circle cx="48.8" cy="198.4" r="1.4"/><circle cx="48.8" cy="203.5" r="1.4"/><circle cx="48.8" cy="208.5" r="1.4"/><circle cx="48.8" cy="213" r="1.4"/><circle cx="48.8" cy="217" r="1.4"/><circle cx="48.8" cy="221" r="1.4"/><circle cx="48.8" cy="263" r="1.4"/><circle cx="48.8" cy="277.7" r="1.4"/><circle cx="48.8" cy="319.3" r="1.4"/><circle cx="56.6" cy="201" r="1.4"/><circle cx="55.8" cy="203.5" r="1.4"/><circle cx="57.2" cy="204" r="1.4"/><circle cx="51.5" cy="221" r="1.4"/><circle cx="52.5" cy="218" r="1.4"/><circle cx="53.3" cy="215" r="1.4"/><circle cx="49.67" cy="236.49" r="1.4"/><circle cx="53.65" cy="246.63" r="1.4"/><circle cx="51.05" cy="246.62" r="1.4"/><circle cx="54.39" cy="241.01" r="1.4"/><circle cx="53.31" cy="249.32" r="1.4"/><circle cx="53.14" cy="237.37" r="1.4"/><circle cx="49.9" cy="247.87" r="1.4"/><circle cx="53.56" cy="233.63" r="1.4"/><circle cx="49.75" cy="234.39" r="1.4"/><circle cx="52.46" cy="231.03" r="1.4"/><circle cx="49.33" cy="237.18" r="1.4"/><circle cx="50.39" cy="231.9" r="1.4"/><circle cx="50.92" cy="231.34" r="1.4"/><circle cx="53.28" cy="240.47" r="1.4"/><circle cx="51.25" cy="249.88" r="1.4"/><circle cx="49.65" cy="248.45" r="1.4"/><circle cx="52.14" cy="244.05" r="1.4"/><circle cx="52.64" cy="248" r="1.4"/><circle cx="52.13" cy="246.6" r="1.4"/><circle cx="54.27" cy="236.94" r="1.4"/><circle cx="50.84" cy="247.17" r="1.4"/><circle cx="52.37" cy="245.56" r="1.4"/><circle cx="51.37" cy="249.77" r="1.4"/><circle cx="51.46" cy="247.91" r="1.4"/><circle cx="51.2" cy="248.7" r="1.4"/><circle cx="50.53" cy="237.81" r="1.4"/><circle cx="51.2" cy="243.63" r="1.4"/><circle cx="53.45" cy="244.68" r="1.4"/><circle cx="50.81" cy="248.17" r="1.4"/><circle cx="49.48" cy="243.09" r="1.4"/><circle cx="51.26" cy="246.28" r="1.4"/><circle cx="53.62" cy="242.54" r="1.4"/><circle cx="54.35" cy="249.53" r="1.4"/><circle cx="49.55" cy="249.34" r="1.4"/><circle cx="53.2" cy="235.44" r="1.4"/><circle cx="51.94" cy="238.85" r="1.4"/><circle cx="50.24" cy="232.24" r="1.4"/><circle cx="50.83" cy="244.39" r="1.4"/><circle cx="51.32" cy="241.8" r="1.4"/><circle cx="51.8" cy="239.02" r="1.4"/><circle cx="49.51" cy="238.13" r="1.4"/><circle cx="54.23" cy="232.73" r="1.4"/><circle cx="54.21" cy="235.96" r="1.4"/><circle cx="52.48" cy="246.65" r="1.4"/><circle cx="49.4" cy="233.68" r="1.4"/><circle cx="51.37" cy="249.76" r="1.4"/><circle cx="50.56" cy="241.28" r="1.4"/><circle cx="50.65" cy="240.84" r="1.4"/><circle cx="50.64" cy="235.31" r="1.4"/><circle cx="51.62" cy="243.29" r="1.4"/><circle cx="49.14" cy="235.77" r="1.4"/><circle cx="54.07" cy="248.77" r="1.4"/><circle cx="49.22" cy="231.92" r="1.4"/><circle cx="54.01" cy="241.44" r="1.4"/><circle cx="53.64" cy="241.9" r="1.4"/><circle cx="49.39" cy="231.13" r="1.4"/><circle cx="50.76" cy="243.85" r="1.4"/><circle cx="49.37" cy="237.2" r="1.4"/><circle cx="51.57" cy="231.35" r="1.4"/><circle cx="52.81" cy="246.34" r="1.4"/></g>
<line x1="49.1" y1="254.8" x2="259.45" y2="254.8" stroke="#10e810" stroke-width="1.5" stroke-dasharray="4.3 3.6"/>
<g font-size="11.5"><text x="48.5" y="333.1" text-anchor="middle">0</text><text x="95.51" y="333.1" text-anchor="middle">4</text><text x="142.52" y="333.1" text-anchor="middle">8</text><text x="189.53" y="333.1" text-anchor="middle">1.2</text><text x="236.54" y="333.1" text-anchor="middle">1.6</text><text x="45.9" y="215.8" text-anchor="end">0.25</text><text x="45.9" y="258.9" text-anchor="end">0.23</text><text x="45.9" y="323.6" text-anchor="end">0.2</text></g>
<text x="154.28" y="347" text-anchor="middle" font-size="10.6">(b)</text>
<g><g transform="translate(15.8 331.5) rotate(-90)" font-size="11.0"><text x="0" y="0" textLength="106.7" lengthAdjust="spacing">Initial Angul. Velo. </text><text x="106.7" y="0" textLength="46.6" lengthAdjust="spacing">Bias[°/s]</text></g></g>
<g stroke="#000" stroke-opacity="0.155" stroke-width="1.2" fill="none"><line x1="101.14" y1="363.7" x2="101.14" y2="487"/><line x1="146.53" y1="363.7" x2="146.53" y2="487"/><line x1="191.92" y1="363.7" x2="191.92" y2="487"/><line x1="237.31" y1="363.7" x2="237.31" y2="487"/><line x1="55.75" y1="375.1" x2="260" y2="375.1"/><line x1="55.75" y1="427.9" x2="260" y2="427.9"/><line x1="55.75" y1="473.1" x2="260" y2="473.1"/></g>
<rect x="55.75" y="363.7" width="204.25" height="123.3" fill="none" stroke="#000" stroke-width="1.7"/>
<path d="M101.14 487v-2.8M101.14 363.7v2.8M146.53 487v-2.8M146.53 363.7v2.8M191.92 487v-2.8M191.92 363.7v2.8M237.31 487v-2.8M237.31 363.7v2.8M55.75 375.1h2.8M260 375.1h-2.8M55.75 427.9h2.8M260 427.9h-2.8M55.75 473.1h2.8M260 473.1h-2.8" stroke="#000" stroke-width="1.4" fill="none"/>
<path d="M62 469.4 L62.25 464.69 L62.5 465.71 L62.75 461.12 L63 461.38 L63.25 471.94 L63.5 467.41 L63.75 464.98 L64 470.65 L64.25 472.87 L64.5 460.85 L64.75 474.31 L65 458.6 L65.25 468.23 L65.5 462.66 L65.75 462.5 L66 466.41 L66.25 468.12 L66.5 465.42 L66.75 469.76 L67 473.42 L67.25 461.14 L67.5 462.19 L67.75 467.93 L68 464.82 L68.25 463.33 L68.5 466.19 L68.75 469.07 L69 472.21 L69.25 472.63 L69.5 470.75 L69.75 463.79 L70 471.58 L70.25 469.05 L70.5 461.53 L70.75 472.34 L71 462.69 L71.25 468.57 L71.5 468.71 L71.75 471.44 L72 468.3 L72.25 472.24 L72.5 460.82 L72.75 460.66 L73 462.65 L73.25 467.15 L73.5 465.43 L73.75 461.63 L74 463.05 L74.25 467.21 L74.5 465.31 L74.75 469.19 L75 466.05 L75.25 470.35 L75.5 469.08 L75.75 466.34 L76 464.96 L76.25 463.53 L76.5 464.34 L76.75 464.98 L77 465.05 L77.25 463.32 L77.5 466.15 L77.75 462.76 L78 469.82 L78.25 466.86 L78.5 462.74 L78.75 464.86 L79 464.24 L79.25 463.4 L79.5 466.23 L79.75 463.71 L80 463.47 L80.25 468.09 L80.5 465.82 L80.75 467.81 L81 466.16 L81.25 466.43 L81.5 464.89 L81.75 465.82 L82 466.25 L82.25 465.18 L82.5 468.91 L82.75 464.46 L83 464.29 L83.25 465.23 L83.5 468.52 L83.75 468.95 L84 466.87 L84.25 465.4 L84.5 467.46 L84.75 468.71 L85 464.6 L85.25 467.56 L85.5 467.84 L85.75 465.65 L86 464.01 L86.25 467.11 L86.5 464.49 L86.75 465.54 L87 466.69 L87.25 469.35 L87.5 464.17 L87.75 463.74 L88 466.64 L88.25 469.1 L88.5 463.67 L88.75 467.25 L89 463.62 L89.25 466.7 L89.5 464.21 L89.75 467.3 L90 465.62 L90.25 467.26 L90.5 465.08 L90.75 464.09 L91 464.7 L91.25 465.21 L91.5 464.64 L91.75 464.84 L92 466.67 L92.25 466.12 L92.5 468.13 L92.75 466.44 L93 466.66 L93.25 467.52 L93.5 468.23 L93.75 466.89 L94 464.22 L94.25 466.29 L94.5 464.25 L94.75 466.99 L95 464.46 L95.25 466.69 L95.5 464.9 L95.75 468.14 L96 464.69 L96.25 467.24 L96.5 467.43 L96.75 465.55 L97 466.94 L97.25 465.81 L97.5 465.53 L97.75 465.54 L98 464.55 L98.25 467.28 L98.5 464.83 L98.75 465.36 L99 464.94 L99.25 467.78 L99.5 466.7 L99.75 466.47 L100 466.92 L100.25 467.75 L100.5 467.04 L100.75 466.6 L101 465.84 L101.25 466.58 L101.5 468.32 L101.75 466.75 L102 466.39 L102.25 467.89 L102.5 464.81 L102.75 464.83 L103 467.47 L103.25 468 L103.5 464.76 L103.75 464.65 L104 464.59 L104.25 466.61 L104.5 465.03 L104.75 466.52 L105 466.87 L105.25 464.57 L105.5 467.55 L105.75 465.38 L106 466.41 L106.25 465.7 L106.5 465.65 L106.75 465.85 L107 464.46 L107.25 465.9 L107.5 465.33 L107.75 465.63 L108 464.96 L108.25 465.52 L108.5 466.72 L108.75 467.65 L109 465.01 L109.25 467.21 L109.5 466.35 L109.75 464.64 L110 464.34 L110.25 467.16 L110.5 465.02 L110.75 464.59 L111 466.34 L111.25 466.48 L111.5 467.06 L111.75 465.78 L112 465.16 L112.25 465.16 L112.5 464.79 L112.75 466.11 L113 467.05 L113.25 464.37 L113.5 465.28 L113.75 465.15 L114 464.3 L114.25 465.85 L114.5 467 L114.75 464.85 L115 466.18 L115.25 466.71 L115.5 464.85 L115.75 466.79 L116 466.3 L116.25 466.02 L116.5 464.72 L116.75 464.98 L117 464.5 L117.25 466.79 L117.5 466.56 L117.75 464.52 L118 465.8 L118.25 464.93 L118.5 466.49 L118.75 465.97 L119 467.01 L119.25 466.43 L119.5 464.73 L119.75 465.49 L120 466.06 L120.25 466.98 L120.5 465.55 L120.75 465.08 L121 465.36 L121.25 465.29 L121.5 465.06 L121.75 465.58 L122 465.35 L122.25 465.95 L122.5 466.85 L122.75 466.91 L123 464.83 L123.25 465.78 L123.5 465.96 L123.75 464.59 L124 465.45 L124.25 464.56 L124.5 464.88 L124.75 464.71 L125 465.81 L125.25 464.34 L125.5 464.99 L125.75 465.01 L126 464.61 L126.25 466.22 L126.5 465.13 L126.75 465.37 L127 466.42 L127.25 466.22 L127.5 466.97 L127.75 466.03 L128 466.28 L128.25 467.72 L128.5 467.28 L128.75 468.45 L129 467.49 L129.25 467.76 L129.5 469.18 L129.75 468.5 L130 468.3 L130.25 468.75 L130.5 469.97 L130.75 469.11 L131 469.62 L131.25 470.09 L131.5 469.73 L131.75 469.97 L132 470.33 L132.25 469.29 L132.5 470.17 L132.75 469.7 L133 469.21 L133.25 469.13 L133.5 469.43 L133.75 469.19 L134 470.05 L134.25 469.78 L134.5 469.14 L134.75 470.2 L135 469.86 L135.25 469.69 L135.5 469.34 L135.75 469.75 L136 470.3 L136.25 469.91 L136.5 469.77 L136.75 469.96 L137 469.9 L137.25 470 L137.5 469.51 L137.75 469.47 L138 469.32 L138.25 470.29 L138.5 469.34 L138.75 469.64 L139 470.03 L139.25 469.94 L139.5 470.42 L139.75 469.64 L140 469.54 L140.25 469.6 L140.5 470 L140.75 469.77 L141 469.97 L141.25 470.24 L141.5 469.84 L141.75 470.24 L142 469.53 L142.25 470.13 L142.5 470.54 L142.75 470.58 L143 470.19 L143.25 470.65 L143.5 469.84 L143.75 469.92 L144 470.1 L144.25 470.18 L144.5 470.52 L144.75 470.13 L145 469.71 L145.25 470.39 L145.5 469.84 L145.75 470.52 L146 469.77 L146.25 469.83 L146.5 469.63 L146.75 469.78 L147 470.07 L147.25 469.68 L147.5 469.43 L147.75 469.96 L148 470.09 L148.25 469.4 L148.5 469.7 L148.75 469.3 L149 469.22 L149.25 469.56 L149.5 469.44 L149.75 470.01 L150 469.1 L150.25 469.79 L150.5 469.92 L150.75 469.65 L151 469.78 L151.25 469.56 L151.5 469.61 L151.75 469.46 L152 470.35 L152.25 469.53 L152.5 469.68 L152.75 470.3 L153 470.08 L153.25 470.18 L153.5 470.01 L153.75 469.93 L154 470.59 L154.25 470.06 L154.5 470.34 L154.75 470.9 L155 470.59 L155.25 471.33 L155.5 470.71 L155.75 471.17 L156 471.3 L156.25 471.39 L156.5 471.76 L156.75 471.2 L157 471.79 L157.25 472.14 L157.5 471.57 L157.75 472.15 L158 472.17 L158.25 472.26 L158.5 472.5 L158.75 472.7 L159 472.9 L159.25 473.19 L159.5 473.09 L159.75 473.46 L160 473.17 L160.25 472.83 L160.5 472.73 L160.75 472.68 L161 472.87 L161.25 472.75 L161.5 473.27 L161.75 473.29 L162 473.24 L162.25 473.05 L162.5 473.14 L162.75 472.97 L163 473.57 L163.25 472.78 L163.5 473.06 L163.75 473.3 L164 472.97 L164.25 473.58 L164.5 473.27 L164.75 473.18 L165 472.92 L165.25 473.13 L165.5 473.42 L165.75 473.16 L166 472.97 L166.25 473.45 L166.5 473.22 L166.75 473.72 L167 473.6 L167.25 473.64 L167.5 473.8 L167.75 473.74 L168 473.33 L168.25 473.56 L168.5 473.3 L168.75 473.26 L169 473.28 L169.25 473.21 L169.5 473.34 L169.75 473.34 L170 473.75 L170.25 473.41 L170.5 473.25 L170.75 473.61 L171 473.44 L171.25 473.89 L171.5 473.51 L171.75 473.82 L172 473.52 L172.25 473.81 L172.5 474.17 L172.75 473.7 L173 473.92 L173.25 473.87 L173.5 473.57 L173.75 473.56 L174 474.3 L174.25 473.89 L174.5 474.21 L174.75 474 L175 474.39 L175.25 473.86 L175.5 474.14 L175.75 474.22 L176 474.45 L176.25 473.82 L176.5 474.13 L176.75 474.25 L177 474.38 L177.25 474.01 L177.5 474.39 L177.75 474.54 L178 474.6 L178.25 474.19 L178.5 474.4 L178.75 474.3 L179 474.4 L179.25 474.41 L179.5 474.93 L179.75 474.16 L180 474.99 L180.25 474.2 L180.5 474.24 L180.75 474.36 L181 474.43 L181.25 474.92 L181.5 474.91 L181.75 474.99 L182 474.53 L182.25 474.21 L182.5 474.73 L182.75 474.97 L183 474.29 L183.25 474.91 L183.5 474.21 L183.75 474.84 L184 474.63 L184.25 474.99 L184.5 474.96 L184.75 474.26 L185 474.65 L185.25 474.43 L185.5 474.6 L185.75 474.29 L186 474.54 L186.25 474.58 L186.5 474.24 L186.75 474.65 L187 475 L187.25 474.3 L187.5 475.05 L187.75 474.67 L188 474.44 L188.25 475.08 L188.5 474.66 L188.75 474.63 L189 474.59 L189.25 475.01 L189.5 474.38 L189.75 474.45 L190 474.52 L190.25 474.34 L190.5 474.99 L190.75 474.7 L191 474.8 L191.25 475.04 L191.5 474.71 L191.75 474.53 L192 474.75 L192.25 474.72 L192.5 474.56 L192.75 474.5 L193 474.61 L193.25 474.93 L193.5 474.46 L193.75 475.15 L194 474.52 L194.25 474.55 L194.5 474.43 L194.75 474.66 L195 474.64 L195.25 474.9 L195.5 475.08 L195.75 474.55 L196 475.02 L196.25 474.6 L196.5 474.69 L196.75 474.46 L197 475.09 L197.25 474.67 L197.5 474.94 L197.75 474.39 L198 474.94 L198.25 474.56 L198.5 474.75 L198.75 474.93 L199 474.52 L199.25 474.81 L199.5 475.07 L199.75 474.52 L200 474.77 L200.25 474.54 L200.5 474.51 L200.75 474.8 L201 474.78 L201.25 474.93 L201.5 475.11 L201.75 474.99 L202 474.69 L202.25 474.82 L202.5 474.97 L202.75 475.11 L203 474.99 L203.25 474.85 L203.5 474.55 L203.75 475.15 L204 474.68 L204.25 474.78 L204.5 475.17 L204.75 474.63 L205 475.2 L205.25 474.65 L205.5 474.54 L205.75 474.89 L206 475.12 L206.25 474.8 L206.5 475.16 L206.75 474.81 L207 475.15 L207.25 474.58 L207.5 474.73 L207.75 474.6 L208 475.1 L208.25 474.89 L208.5 475.04 L208.75 474.71 L209 475.11 L209.25 475.32 L209.5 474.59 L209.75 474.78 L210 475.23 L210.25 475.22 L210.5 475.24 L210.75 474.73 L211 475 L211.25 474.62 L211.5 474.9 L211.75 475.02 L212 474.77 L212.25 474.9 L212.5 474.86 L212.75 474.64 L213 474.63 L213.25 475.2 L213.5 474.59 L213.75 475.37 L214 475.3 L214.25 475.38 L214.5 475.22 L214.75 474.6 L215 474.7 L215.25 474.86 L215.5 474.76 L215.75 474.67 L216 475.35 L216.25 475.35 L216.5 475.24 L216.75 474.84 L217 475.32 L217.25 475.3 L217.5 474.91 L217.75 474.76 L218 474.77 L218.25 474.99 L218.5 475.33 L218.75 474.74 L219 475.03 L219.25 474.97 L219.5 475.4 L219.75 474.82 L220 475.22 L220.25 474.97 L220.5 475.22 L220.75 475.37 L221 475.37 L221.25 475.39 L221.5 474.97 L221.75 474.96 L222 474.85 L222.25 474.96 L222.5 474.85 L222.75 475.37 L223 474.81 L223.25 474.93 L223.5 475.39 L223.75 475.38 L224 475.55 L224.25 475.1 L224.5 474.84 L224.75 475.43 L225 475.04 L225.25 475.42 L225.5 474.84 L225.75 474.86 L226 475.3 L226.25 475.37 L226.5 475.28 L226.75 475.26 L227 475.31 L227.25 474.96 L227.5 474.92 L227.75 475.14 L228 475.3 L228.25 475.07 L228.5 475.03 L228.75 475.23 L229 475.21 L229.25 475.11 L229.5 475.61 L229.75 475.63 L230 474.96 L230.25 475.32 L230.5 475.18 L230.75 475.29 L231 475.09 L231.25 475.17 L231.5 475.17 L231.75 475.28 L232 475.71 L232.25 475.32 L232.5 475.97 L232.75 475.94 L233 475.58 L233.25 475.93 L233.5 476.17 L233.75 475.57 L234 475.95 L234.25 475.99 L234.5 475.99 L234.75 476.09 L235 476.06 L235.25 476.6 L235.5 476.38 L235.75 476.67 L236 477.16 L236.25 476.85 L236.5 476.94 L236.75 477.52 L237 477.37 L237.25 477.48 L237.5 477.25 L237.75 477.45 L238 477.14 L238.25 477.15 L238.5 476.94 L238.75 476.59 L239 477.07 L239.25 476.82 L239.5 476.91 L239.75 476.31 L240 476.18 L240.25 475.96 L240.5 475.98 L240.75 475.88 L241 475.67 L241.25 475.73 L241.5 475.75 L241.75 476.16 L242 475.86 L242.25 476.14 L242.5 475.57 L242.75 475.67 L243 476.23 L243.25 475.57 L243.5 475.58 L243.75 475.91 L244 475.75 L244.25 475.68 L244.5 475.98 L244.75 475.98 L245 475.67 L245.25 475.93 L245.5 475.87 L245.75 476.15 L246 475.59 L246.25 475.71 L246.5 475.95 L246.75 475.56 L247 476.15 L247.25 476.24 L247.5 475.78 L247.75 476.1 L248 475.72 L248.25 476.22 L248.5 475.69 L248.75 475.54 L249 475.59 L249.25 475.87 L249.5 475.57 L249.75 476.25 L250 475.99 L250.25 475.95 L250.5 475.99 L250.75 475.84 L251 476.18 L251.25 476.05 L251.5 475.85 L251.75 475.75 L252 475.65 L252.25 475.74 L252.5 475.75 L252.75 475.53 L253 476.1 L253.25 475.6 L253.5 475.78 L253.75 475.42 L254 475.74 L254.25 475.78 L254.5 475.35 L254.75 475.96 L255 475.36 L255.25 475.41 L255.5 475.72 L255.75 475.41 L256 475.77 L256.25 475.29 L256.5 475.32 L256.75 475.56 L257 475.65 L257.25 475.6 L257.5 475.12 L257.75 475.22 L258 475.07 L258.25 475.19 L258.5 474.81 L258.75 475.17 L259 475.02 L259.25 474.57 L259.5 474.6 L259.75 474.55 L260 474.9" fill="none" stroke="#0072bd" stroke-width="3.0" stroke-linejoin="round" stroke-linecap="round"/>
<g fill="#0072bd"><circle cx="56.05" cy="364" r="1.3"/><circle cx="56.05" cy="375.1" r="1.3"/><circle cx="56.05" cy="388" r="1.3"/><circle cx="56.05" cy="424" r="1.3"/><circle cx="56.05" cy="486.2" r="1.3"/><circle cx="56.65" cy="392" r="1.3"/><circle cx="56.35" cy="396" r="1.3"/><circle cx="56.85" cy="399.5" r="1.3"/><circle cx="56.45" cy="403" r="1.3"/><circle cx="56.95" cy="407" r="1.3"/><circle cx="57.15" cy="419" r="1.3"/><circle cx="57.55" cy="484.4" r="1.3"/><circle cx="58.55" cy="482.5" r="1.3"/><circle cx="59.5" cy="436" r="1.3"/><circle cx="60.2" cy="440" r="1.3"/><circle cx="59" cy="444" r="1.3"/><circle cx="61" cy="448" r="1.3"/><circle cx="67" cy="477" r="1.3"/><circle cx="68" cy="479" r="1.3"/><circle cx="66" cy="478" r="1.3"/><circle cx="69" cy="476" r="1.3"/><circle cx="63.5" cy="480" r="1.3"/><circle cx="62.8" cy="477.5" r="1.3"/><circle cx="60.93" cy="451.95" r="1.3"/><circle cx="65.44" cy="472.98" r="1.3"/><circle cx="65.59" cy="470.07" r="1.3"/><circle cx="56.72" cy="451.47" r="1.3"/><circle cx="63.18" cy="475.13" r="1.3"/><circle cx="64.52" cy="471.7" r="1.3"/><circle cx="63.11" cy="464.62" r="1.3"/><circle cx="63.23" cy="475.81" r="1.3"/><circle cx="61.26" cy="447.82" r="1.3"/><circle cx="65.43" cy="465.04" r="1.3"/><circle cx="57.24" cy="470.4" r="1.3"/><circle cx="60.85" cy="461.27" r="1.3"/><circle cx="63.85" cy="472.05" r="1.3"/><circle cx="61.8" cy="455.67" r="1.3"/><circle cx="65.01" cy="459.85" r="1.3"/><circle cx="65.6" cy="472.27" r="1.3"/><circle cx="60.2" cy="474.08" r="1.3"/><circle cx="60.45" cy="455.46" r="1.3"/><circle cx="61.65" cy="457.26" r="1.3"/><circle cx="64.44" cy="471.36" r="1.3"/><circle cx="65.29" cy="473.36" r="1.3"/><circle cx="64.74" cy="473.53" r="1.3"/><circle cx="56.75" cy="475.54" r="1.3"/><circle cx="59.76" cy="451.24" r="1.3"/><circle cx="60.32" cy="463.11" r="1.3"/><circle cx="58.94" cy="475.3" r="1.3"/><circle cx="65.16" cy="469.18" r="1.3"/><circle cx="60.08" cy="445" r="1.3"/><circle cx="61.69" cy="451.31" r="1.3"/><circle cx="61.2" cy="457.96" r="1.3"/><circle cx="64.96" cy="456.57" r="1.3"/><circle cx="63.1" cy="467.51" r="1.3"/><circle cx="60.04" cy="465.72" r="1.3"/><circle cx="64.17" cy="473.37" r="1.3"/><circle cx="57.4" cy="470.68" r="1.3"/><circle cx="65.92" cy="467.53" r="1.3"/><circle cx="57.46" cy="468.41" r="1.3"/><circle cx="63.33" cy="472.1" r="1.3"/><circle cx="59.39" cy="446.35" r="1.3"/><circle cx="64.36" cy="474.31" r="1.3"/><circle cx="58.81" cy="457.26" r="1.3"/><circle cx="63.96" cy="473.15" r="1.3"/><circle cx="64.56" cy="464.71" r="1.3"/><circle cx="64.61" cy="467.37" r="1.3"/><circle cx="64.96" cy="471.64" r="1.3"/><circle cx="59.98" cy="475.38" r="1.3"/><circle cx="62.14" cy="472.11" r="1.3"/><circle cx="64.28" cy="469.2" r="1.3"/><circle cx="57.75" cy="464.78" r="1.3"/><circle cx="63.13" cy="473.29" r="1.3"/><circle cx="57.14" cy="472.18" r="1.3"/><circle cx="58.96" cy="471.58" r="1.3"/><circle cx="58.57" cy="467.64" r="1.3"/><circle cx="58.22" cy="464.84" r="1.3"/><circle cx="57.48" cy="469.74" r="1.3"/><circle cx="60.76" cy="455.05" r="1.3"/><circle cx="64.88" cy="468.74" r="1.3"/><circle cx="57.8" cy="474.1" r="1.3"/><circle cx="63.01" cy="471.49" r="1.3"/><circle cx="62.02" cy="454.35" r="1.3"/><circle cx="62.86" cy="453.86" r="1.3"/><circle cx="57.41" cy="468.84" r="1.3"/><circle cx="56.92" cy="474.3" r="1.3"/><circle cx="62.44" cy="475.69" r="1.3"/><circle cx="57.13" cy="451.23" r="1.3"/><circle cx="58.19" cy="466.4" r="1.3"/><circle cx="60.22" cy="472.14" r="1.3"/><circle cx="60.02" cy="454.15" r="1.3"/><circle cx="60.14" cy="469.47" r="1.3"/><circle cx="57.93" cy="459.06" r="1.3"/><circle cx="63.92" cy="468.43" r="1.3"/><circle cx="59.31" cy="451.83" r="1.3"/><circle cx="64.94" cy="473.01" r="1.3"/><circle cx="60.73" cy="453.55" r="1.3"/><circle cx="58.18" cy="471.15" r="1.3"/><circle cx="59.3" cy="466.67" r="1.3"/><circle cx="57.5" cy="460.58" r="1.3"/><circle cx="58.84" cy="459.21" r="1.3"/><circle cx="57.32" cy="468.64" r="1.3"/><circle cx="64.47" cy="464.96" r="1.3"/><circle cx="61.62" cy="473.77" r="1.3"/><circle cx="62.36" cy="461.42" r="1.3"/><circle cx="65.68" cy="469.48" r="1.3"/><circle cx="64.39" cy="472.83" r="1.3"/><circle cx="62.77" cy="467.31" r="1.3"/><circle cx="61.6" cy="472.17" r="1.3"/><circle cx="62.55" cy="468.79" r="1.3"/><circle cx="57.16" cy="464.49" r="1.3"/><circle cx="59" cy="452.18" r="1.3"/><circle cx="58.88" cy="472.33" r="1.3"/><circle cx="65.95" cy="469.88" r="1.3"/><circle cx="59.65" cy="458.46" r="1.3"/><circle cx="56.86" cy="459.82" r="1.3"/><circle cx="57.06" cy="462.05" r="1.3"/><circle cx="65.95" cy="473.39" r="1.3"/></g>
<line x1="56.35" y1="473.5" x2="259.4" y2="473.5" stroke="#10e810" stroke-width="1.5" stroke-dasharray="4.3 3.6"/>
<g font-size="11.5"><text x="55.75" y="500.1" text-anchor="middle">0</text><text x="101.14" y="500.1" text-anchor="middle">4</text><text x="146.53" y="500.1" text-anchor="middle">8</text><text x="191.92" y="500.1" text-anchor="middle">1.2</text><text x="237.31" y="500.1" text-anchor="middle">1.6</text><text x="53.15" y="379.3" text-anchor="end">0.16</text><text x="53.15" y="432.1" text-anchor="end">0.14</text><text x="53.15" y="477.3" text-anchor="end">0.123</text></g>
<text x="157.88" y="513.5" text-anchor="middle" font-size="10.6">(c)</text>
<g clip-path="url(#clipc)"><g transform="translate(15.7 503.1) rotate(-90)" font-size="10.6"><text x="0" y="0" textLength="108.8" lengthAdjust="spacing">Initial Angul. Velo. </text><text x="108.8" y="0" textLength="47.7" lengthAdjust="spacing">Bias[°/s]</text></g></g>
<text x="157.38" y="531" text-anchor="middle" font-size="11.0" textLength="109.8" lengthAdjust="spacing">Interval Time [10<tspan dy="-5.1" font-size="8.4">2</tspan><tspan dy="5.1">s]</tspan></text>
<g stroke="#000" stroke-opacity="0.155" stroke-width="1.2" fill="none"><line x1="394.26" y1="16" x2="394.26" y2="146.2"/><line x1="436.57" y1="16" x2="436.57" y2="146.2"/><line x1="478.88" y1="16" x2="478.88" y2="146.2"/><line x1="521.19" y1="16" x2="521.19" y2="146.2"/><line x1="351.95" y1="92.3" x2="542.35" y2="92.3"/></g>
<rect x="351.95" y="16" width="190.4" height="130.2" fill="none" stroke="#000" stroke-width="1.7"/>
<path d="M394.26 146.2v-2.8M394.26 16v2.8M436.57 146.2v-2.8M436.57 16v2.8M478.88 146.2v-2.8M478.88 16v2.8M521.19 146.2v-2.8M521.19 16v2.8M351.95 92.3h2.8M542.35 92.3h-2.8" stroke="#000" stroke-width="1.4" fill="none"/>
<path d="M353.9 106 L353.93 105.46 L353.97 104.74 L354.01 103.87 L354.06 102.92 L354.12 101.91 L354.18 100.89 L354.24 99.91 L354.3 99 L354.36 98.15 L354.41 97.29 L354.46 96.45 L354.52 95.61 L354.59 94.77 L354.67 93.94 L354.77 93.12 L354.9 92.3 L355.06 91.49 L355.24 90.69 L355.45 89.9 L355.67 89.11 L355.9 88.32 L356.14 87.54 L356.37 86.77 L356.6 86 L356.83 85.26 L357.06 84.57 L357.29 83.9 L357.52 83.23 L357.76 82.53 L358.01 81.77 L358.25 80.94 L358.5 80 L358.76 78.91 L359.02 77.66 L359.29 76.32 L359.56 74.94 L359.83 73.56 L360.1 72.24 L360.36 71.04 L360.6 70 L360.83 69.14 L361.05 68.4 L361.27 67.76 L361.48 67.19 L361.68 66.66 L361.88 66.13 L362.09 65.59 L362.3 65 L362.5 64.41 L362.69 63.87 L362.87 63.34 L363.05 62.81 L363.25 62.24 L363.46 61.6 L363.71 60.86 L364 60 L364.34 58.99 L364.71 57.85 L365.12 56.62 L365.55 55.31 L365.99 53.97 L366.44 52.62 L366.88 51.28 L367.3 50 L367.72 48.72 L368.14 47.39 L368.56 46.05 L368.98 44.71 L369.4 43.41 L369.81 42.18 L370.21 41.03 L370.6 40 L370.98 39.08 L371.34 38.24 L371.7 37.47 L372.06 36.78 L372.4 36.14 L372.74 35.58 L373.07 35.06 L373.4 34.6 L373.72 34.19 L374.02 33.84 L374.32 33.54 L374.61 33.31 L374.9 33.13 L375.2 33.02 L375.49 32.98 L375.8 33 L376.11 33.07 L376.43 33.17 L376.75 33.33 L377.07 33.56 L377.4 33.87 L377.73 34.29 L378.06 34.82 L378.4 35.5 L378.74 36.31 L379.08 37.25 L379.42 38.3 L379.76 39.46 L380.11 40.71 L380.47 42.06 L380.83 43.49 L381.2 45 L381.58 46.65 L381.99 48.48 L382.4 50.43 L382.81 52.46 L383.23 54.5 L383.63 56.51 L384.03 58.42 L384.4 60.2 L384.75 61.81 L385.08 63.29 L385.39 64.68 L385.7 66.04 L386.01 67.4 L386.32 68.82 L386.65 70.34 L387 72 L387.37 73.86 L387.76 75.89 L388.16 78.03 L388.57 80.21 L388.99 82.39 L389.4 84.48 L389.81 86.44 L390.2 88.2 L390.58 89.78 L390.95 91.27 L391.31 92.65 L391.68 93.94 L392.04 95.13 L392.41 96.24 L392.8 97.26 L393.2 98.2 L393.62 99.06 L394.06 99.85 L394.51 100.56 L394.98 101.17 L395.44 101.69 L395.9 102.11 L396.36 102.41 L396.8 102.6 L397.24 102.63 L397.67 102.51 L398.09 102.26 L398.52 101.91 L398.94 101.49 L399.36 101.05 L399.78 100.61 L400.2 100.2 L400.61 99.8 L401.02 99.37 L401.42 98.92 L401.82 98.44 L402.23 97.96 L402.64 97.47 L403.06 96.98 L403.5 96.5 L403.95 96.02 L404.42 95.53 L404.89 95.03 L405.38 94.53 L405.86 94.03 L406.35 93.54 L406.83 93.06 L407.3 92.6 L407.76 92.15 L408.22 91.71 L408.67 91.28 L409.12 90.85 L409.57 90.43 L410.04 90.02 L410.51 89.61 L411 89.2 L411.51 88.81 L412.02 88.45 L412.55 88.1 L413.09 87.76 L413.63 87.4 L414.18 87.01 L414.74 86.58 L415.3 86.1 L415.87 85.56 L416.46 84.96 L417.05 84.33 L417.65 83.66 L418.25 82.99 L418.84 82.31 L419.43 81.64 L420 81 L420.54 80.37 L421.06 79.74 L421.56 79.12 L422.06 78.49 L422.57 77.88 L423.11 77.27 L423.68 76.68 L424.3 76.1 L425 75.52 L425.78 74.91 L426.61 74.31 L427.46 73.72 L428.29 73.17 L429.08 72.67 L429.79 72.24 L430.4 71.9 L430.89 71.65 L431.3 71.49 L431.64 71.4 L431.93 71.36 L432.19 71.35 L432.45 71.37 L432.71 71.39 L433 71.4 L433.28 71.39 L433.51 71.36 L433.71 71.34 L433.93 71.34 L434.17 71.38 L434.48 71.48 L434.88 71.64 L435.4 71.9 L436.06 72.26 L436.86 72.72 L437.75 73.25 L438.7 73.83 L439.68 74.45 L440.64 75.08 L441.56 75.7 L442.4 76.3 L443.16 76.88 L443.87 77.47 L444.54 78.06 L445.2 78.66 L445.86 79.27 L446.53 79.88 L447.24 80.49 L448 81.1 L448.83 81.72 L449.72 82.36 L450.65 83 L451.6 83.64 L452.53 84.28 L453.43 84.91 L454.26 85.52 L455 86.1 L455.63 86.63 L456.16 87.1 L456.63 87.53 L457.06 87.96 L457.48 88.42 L457.92 88.92 L458.42 89.51 L459 90.2 L459.68 91.05 L460.43 92.05 L461.23 93.14 L462.06 94.28 L462.88 95.41 L463.68 96.47 L464.43 97.42 L465.1 98.2 L465.7 98.81 L466.25 99.31 L466.76 99.72 L467.24 100.05 L467.69 100.33 L468.13 100.56 L468.57 100.78 L469 101 L469.43 101.21 L469.84 101.39 L470.23 101.53 L470.61 101.65 L470.99 101.73 L471.36 101.79 L471.73 101.81 L472.1 101.8 L472.47 101.75 L472.83 101.67 L473.19 101.55 L473.54 101.4 L473.9 101.23 L474.26 101.03 L474.62 100.82 L475 100.6 L475.35 100.37 L475.67 100.12 L475.97 99.86 L476.28 99.57 L476.64 99.27 L477.06 98.94 L477.57 98.58 L478.2 98.2 L478.99 97.76 L479.91 97.26 L480.95 96.71 L482.04 96.15 L483.15 95.59 L484.24 95.07 L485.27 94.6 L486.2 94.2 L487.03 93.88 L487.82 93.6 L488.56 93.37 L489.27 93.17 L489.97 93.01 L490.64 92.86 L491.32 92.73 L492 92.6 L492.68 92.48 L493.35 92.36 L494 92.26 L494.65 92.17 L495.29 92.12 L495.93 92.1 L496.56 92.13 L497.2 92.2 L497.8 92.31 L498.34 92.44 L498.87 92.6 L499.39 92.8 L499.96 93.05 L500.6 93.36 L501.33 93.74 L502.2 94.2 L503.25 94.78 L504.47 95.5 L505.81 96.31 L507.21 97.16 L508.61 98.02 L509.96 98.85 L511.21 99.59 L512.3 100.2 L513.23 100.7 L514.04 101.12 L514.78 101.48 L515.45 101.79 L516.09 102.06 L516.71 102.31 L517.34 102.56 L518 102.8 L518.66 103.05 L519.26 103.29 L519.85 103.52 L520.44 103.72 L521.05 103.9 L521.72 104.05 L522.46 104.15 L523.3 104.2 L524.25 104.2 L525.27 104.14 L526.37 104.04 L527.52 103.91 L528.71 103.75 L529.93 103.58 L531.16 103.39 L532.4 103.2 L533.73 102.98 L535.19 102.72 L536.73 102.44 L538.27 102.14 L539.74 101.85 L541.06 101.58 L542.17 101.36 L543 101.2" fill="none" stroke="#0072bd" stroke-width="3.15" stroke-linejoin="round" stroke-linecap="round"/>
<g fill="#0072bd"><circle cx="354.08" cy="99.53" r="1.35"/><circle cx="356.28" cy="88.77" r="1.35"/><circle cx="354.59" cy="90.67" r="1.35"/><circle cx="353.73" cy="105.16" r="1.35"/><circle cx="356.26" cy="92.18" r="1.35"/><circle cx="356.02" cy="92.08" r="1.35"/><circle cx="355.25" cy="94.44" r="1.35"/><circle cx="354.75" cy="94.53" r="1.35"/><circle cx="355.01" cy="107.58" r="1.35"/><circle cx="355.81" cy="91.67" r="1.35"/><circle cx="354.94" cy="90.93" r="1.35"/><circle cx="355.81" cy="89.49" r="1.35"/><circle cx="354.98" cy="103.26" r="1.35"/><circle cx="354.13" cy="104.26" r="1.35"/><circle cx="354.23" cy="91.72" r="1.35"/><circle cx="355.85" cy="97.24" r="1.35"/><circle cx="355.14" cy="97.42" r="1.35"/><circle cx="354.93" cy="107.25" r="1.35"/><circle cx="354.62" cy="103.54" r="1.35"/><circle cx="355.78" cy="92.87" r="1.35"/><circle cx="355.39" cy="96.77" r="1.35"/><circle cx="356.21" cy="92.69" r="1.35"/><circle cx="355.98" cy="91.45" r="1.35"/><circle cx="353.41" cy="106.7" r="1.35"/><circle cx="354.53" cy="106.17" r="1.35"/><circle cx="354.09" cy="100.67" r="1.35"/><circle cx="354.49" cy="94.9" r="1.35"/><circle cx="355.22" cy="97.27" r="1.35"/><circle cx="354.89" cy="103.3" r="1.35"/><circle cx="354.68" cy="95.28" r="1.35"/><circle cx="355.42" cy="104.03" r="1.35"/><circle cx="355.05" cy="92.65" r="1.35"/><circle cx="356.2" cy="93.8" r="1.35"/><circle cx="356.44" cy="88.35" r="1.35"/><circle cx="354" cy="104.12" r="1.35"/><circle cx="354.22" cy="102.29" r="1.35"/><circle cx="354.42" cy="101.37" r="1.35"/><circle cx="354.04" cy="107.22" r="1.35"/><circle cx="354.47" cy="105.06" r="1.35"/><circle cx="356.03" cy="95.82" r="1.35"/><circle cx="367.42" cy="51.77" r="1.35"/><circle cx="355.82" cy="91.06" r="1.35"/><circle cx="360.18" cy="72.52" r="1.35"/><circle cx="355.66" cy="88.42" r="1.35"/><circle cx="357.91" cy="83.22" r="1.35"/><circle cx="356.66" cy="84.93" r="1.35"/><circle cx="358.62" cy="74.63" r="1.35"/><circle cx="367.78" cy="45.6" r="1.35"/><circle cx="358.3" cy="78.77" r="1.35"/><circle cx="355.18" cy="87.42" r="1.35"/><circle cx="367.65" cy="50.62" r="1.35"/><circle cx="362.27" cy="62.92" r="1.35"/><circle cx="357.46" cy="81.05" r="1.35"/><circle cx="354.72" cy="90.67" r="1.35"/><circle cx="356.75" cy="84.93" r="1.35"/><circle cx="355.28" cy="88.77" r="1.35"/><circle cx="355.43" cy="88.26" r="1.35"/><circle cx="362.63" cy="64.41" r="1.35"/><circle cx="360.9" cy="69.73" r="1.35"/><circle cx="358.53" cy="76.8" r="1.35"/><circle cx="370.11" cy="42.44" r="1.35"/><circle cx="360.16" cy="72.01" r="1.35"/><circle cx="362.44" cy="66.79" r="1.35"/><circle cx="365.75" cy="56.85" r="1.35"/><circle cx="367.43" cy="50.4" r="1.35"/><circle cx="354.89" cy="89.08" r="1.35"/><circle cx="357.71" cy="80.51" r="1.35"/><circle cx="368.67" cy="44.95" r="1.35"/><circle cx="358.54" cy="76.95" r="1.35"/><circle cx="354.46" cy="89.51" r="1.35"/><circle cx="365.04" cy="55.39" r="1.35"/><circle cx="363.24" cy="60.54" r="1.35"/><circle cx="368.83" cy="43.07" r="1.35"/><circle cx="365.84" cy="55.08" r="1.35"/><circle cx="364.02" cy="60.87" r="1.35"/><circle cx="362.11" cy="64.12" r="1.35"/><circle cx="366.6" cy="49.95" r="1.35"/><circle cx="356.07" cy="87.07" r="1.35"/><circle cx="364.03" cy="57.68" r="1.35"/><circle cx="356.93" cy="85.83" r="1.35"/><circle cx="352.5" cy="85" r="1.35"/><circle cx="353.5" cy="110.5" r="1.35"/><circle cx="354" cy="113.5" r="1.35"/><circle cx="352.6" cy="116.5" r="1.35"/><circle cx="352.5" cy="119.5" r="1.35"/><circle cx="352.6" cy="125" r="1.35"/><circle cx="352.6" cy="132" r="1.35"/><circle cx="352.6" cy="137" r="1.35"/></g>
<line x1="352.55" y1="92.3" x2="541.75" y2="92.3" stroke="#10e810" stroke-width="1.5" stroke-dasharray="4.3 3.6"/>
<g font-size="11.5"><text x="351.95" y="159.9" text-anchor="middle">0</text><text x="394.26" y="159.9" text-anchor="middle">4</text><text x="436.57" y="159.9" text-anchor="middle">8</text><text x="478.88" y="159.9" text-anchor="middle">1.2</text><text x="521.19" y="159.9" text-anchor="middle">1.6</text><text x="349.35" y="20" text-anchor="end">0.1</text><text x="349.35" y="97" text-anchor="end"><tspan font-size="8.0" dy="-0.85">−</tspan><tspan dy="0.85">0.0175</tspan></text><text x="349.35" y="151.2" text-anchor="end"><tspan font-size="8.0" dy="-0.85">−</tspan><tspan dy="0.85">0.1</tspan></text></g>
<text x="447.15" y="173.9" text-anchor="middle" font-size="10.6">(d)</text>
<g><g transform="translate(297.7 158.1) rotate(-90)" font-size="11.0"><text x="0" y="0" textLength="107.2" lengthAdjust="spacing">Initial Angul. Velo. </text><text x="107.2" y="0" textLength="46.8" lengthAdjust="spacing">Bias[°/s]</text></g></g>
<g stroke="#000" stroke-opacity="0.155" stroke-width="1.2" fill="none"><line x1="383.33" y1="189.6" x2="383.33" y2="319.8"/><line x1="428.81" y1="189.6" x2="428.81" y2="319.8"/><line x1="474.28" y1="189.6" x2="474.28" y2="319.8"/><line x1="519.76" y1="189.6" x2="519.76" y2="319.8"/><line x1="337.85" y1="216.8" x2="542.5" y2="216.8"/><line x1="337.85" y1="276.5" x2="542.5" y2="276.5"/></g>
<rect x="337.85" y="189.6" width="204.65" height="130.2" fill="none" stroke="#000" stroke-width="1.7"/>
<path d="M383.33 319.8v-2.8M383.33 189.6v2.8M428.81 319.8v-2.8M428.81 189.6v2.8M474.28 319.8v-2.8M474.28 189.6v2.8M519.76 319.8v-2.8M519.76 189.6v2.8M337.85 216.8h2.8M542.5 216.8h-2.8M337.85 276.5h2.8M542.5 276.5h-2.8" stroke="#000" stroke-width="1.4" fill="none"/>
<path d="M338.5 287.5 L338.56 286.94 L338.64 286.2 L338.73 285.33 L338.83 284.35 L338.94 283.3 L339.06 282.2 L339.18 281.09 L339.3 280 L339.42 278.91 L339.55 277.77 L339.69 276.59 L339.82 275.38 L339.97 274.15 L340.11 272.91 L340.26 271.65 L340.4 270.4 L340.54 269.13 L340.69 267.84 L340.84 266.53 L340.99 265.21 L341.14 263.88 L341.29 262.57 L341.44 261.27 L341.6 260 L341.76 258.75 L341.91 257.52 L342.07 256.29 L342.23 255.08 L342.39 253.88 L342.55 252.68 L342.72 251.49 L342.9 250.3 L343.08 249.13 L343.27 247.98 L343.46 246.85 L343.66 245.72 L343.86 244.58 L344.06 243.42 L344.28 242.23 L344.5 241 L344.73 239.7 L344.98 238.34 L345.23 236.95 L345.49 235.53 L345.75 234.13 L346 232.75 L346.26 231.44 L346.5 230.2 L346.73 229.05 L346.96 227.96 L347.18 226.92 L347.39 225.91" fill="none" stroke="#0072bd" stroke-width="2.5" stroke-linejoin="round" stroke-linecap="round"/>
<path d="M347.39 225.91 L347.61 224.93 L347.83 223.96 L348.06 222.99 L348.3 222 L348.55 221.01 L348.81 220.02 L349.08 219.04 L349.35 218.07 L349.62 217.1 L349.89 216.13 L350.15 215.17 L350.4 214.2 L350.64 213.22 L350.86 212.23 L351.08 211.23 L351.3 210.24 L351.52 209.26 L351.74 208.3 L351.96 207.38 L352.2 206.5 L352.45 205.65 L352.71 204.81 L352.97 204 L353.24 203.21 L353.51 202.46 L353.77 201.76 L354.04 201.1 L354.3 200.5 L354.55 199.96 L354.81 199.46 L355.06 199.02 L355.31 198.62 L355.55 198.26 L355.8 197.94 L356.05 197.65 L356.3 197.4 L356.55 197.19 L356.8 197.04 L357.05 196.92 L357.3 196.84 L357.55 196.79 L357.8 196.76 L358.05 196.73 L358.3 196.7 L358.55 196.68 L358.8 196.66 L359.05 196.67 L359.3 196.68 L359.55 196.71 L359.8 196.76 L360.05 196.82 L360.3 196.9 L360.55 196.99 L360.79 197.08 L361.03 197.18 L361.27 197.29 L361.51 197.44 L361.76 197.61 L362.03 197.83 L362.3 198.1 L362.59 198.42 L362.89 198.79 L363.2 199.2 L363.52 199.64 L363.84 200.11 L364.16 200.6 L364.48 201.1 L364.8 201.6 L365.1 202.09 L365.37 202.57 L365.63 203.06 L365.89 203.56 L366.18 204.1 L366.5 204.7 L366.87 205.36 L367.3 206.1 L367.81 206.97 L368.4 207.96 L369.05 209.05 L369.72 210.17 L370.41 211.29 L371.08 212.36 L371.72 213.35 L372.3 214.2 L372.83 214.93 L373.34 215.58 L373.84 216.17 L374.31 216.69 L374.76 217.17 L375.19 217.61 L375.6 218.02 L376 218.4 L376.37 218.75 L376.72 219.05 L377.05 219.31 L377.36 219.54 L377.65 219.73 L377.94 219.9 L378.22 220.06 L378.5 220.2 L378.77 220.33 L379.04 220.43 L379.29 220.51 L379.53 220.57 L379.77 220.61 L380.01 220.63 L380.25 220.63 L380.5 220.6 L380.75 220.56 L380.98 220.5 L381.22 220.43 L381.46 220.34 L381.7 220.21 L381.95 220.05 L382.22 219.85 L382.5 219.6 L382.79 219.31 L383.07 218.99 L383.36 218.63 L383.66 218.24 L383.99 217.8 L384.35 217.32 L384.75 216.78 L385.2 216.2 L385.72 215.52 L386.32 214.72 L386.96 213.85 L387.63 212.95 L388.31 212.05 L388.98 211.2 L389.62 210.44 L390.2 209.8 L390.74 209.28 L391.25 208.84 L391.75 208.47 L392.22 208.16 L392.69 207.88 L393.13 207.64 L393.57 207.42 L394 207.2 L394.42 207 L394.83 206.83 L395.22 206.7 L395.61 206.59 L395.98 206.5 L396.33 206.42 L396.67 206.36 L397 206.3 L397.3 206.25 L397.57 206.22 L397.82 206.21 L398.06 206.21 L398.29 206.22 L398.54 206.24 L398.81 206.27 L399.1 206.3 L399.42 206.34 L399.76 206.39 L400.12 206.45 L400.49 206.52 L400.86 206.6 L401.24 206.69 L401.62 206.79 L402 206.9 L402.37 207.02 L402.74 207.14 L403.1 207.26 L403.48 207.4 L403.86 207.56 L404.25 207.74 L404.66 207.95 L405.1 208.2 L405.57 208.51 L406.07 208.87 L406.6 209.28 L407.14 209.71 L407.68 210.13 L408.21 210.54 L408.72 210.9 L409.2 211.2 L409.65 211.44 L410.07 211.63 L410.48 211.79 L410.87 211.92 L411.27 212.04 L411.67 212.16 L412.07 212.27 L412.5 212.4 L412.93 212.52 L413.34 212.61 L413.76 212.68 L414.18 212.76 L414.63 212.86 L415.1 212.99 L415.62 213.16 L416.2 213.4 L416.83 213.71 L417.51 214.09 L418.24 214.52 L418.99 214.97 L419.78 215.45 L420.58 215.92 L421.39 216.38 L422.2 216.8 L423.05 217.21 L423.97 217.63 L424.91 218.05 L425.87 218.46 L426.8 218.85 L427.69 219.21 L428.5 219.53 L429.2 219.8 L429.79 220.01 L430.3 220.18 L430.73 220.3 L431.11 220.39 L431.46 220.46 L431.8 220.51 L432.14 220.56 L432.5 220.6 L432.87 220.64 L433.21 220.68 L433.53 220.7 L433.86 220.71 L434.18 220.69 L434.53 220.66 L434.9 220.6 L435.3 220.5 L435.74 220.37 L436.2 220.21 L436.68 220.02 L437.18 219.81 L437.7 219.57 L438.22 219.33 L438.76 219.07 L439.3 218.8 L439.87 218.51 L440.47 218.18 L441.09 217.83 L441.71 217.47 L442.33 217.11 L442.93 216.77 L443.49 216.46 L444 216.2 L444.45 215.98 L444.86 215.78 L445.24 215.6 L445.59 215.45 L445.93 215.32 L446.27 215.2 L446.62 215.09 L447 215 L447.4 214.92 L447.79 214.85 L448.2 214.8 L448.61 214.76 L449.02 214.74 L449.44 214.74 L449.87 214.76 L450.3 214.8 L450.73 214.86 L451.14 214.93 L451.56 215.03 L451.98 215.14 L452.43 215.27 L452.9 215.42 L453.42 215.6 L454 215.8 L454.65 216.04 L455.36 216.34 L456.13 216.67 L456.92 217.01 L457.72 217.36 L458.52 217.68 L459.28 217.97 L460 218.2 L460.67 218.39 L461.31 218.55 L461.93 218.68 L462.54 218.79 L463.14 218.87 L463.75 218.94 L464.36 218.98 L465 219 L465.67 218.99 L466.35 218.93 L467.06 218.85 L467.76 218.75 L468.46 218.64 L469.14 218.54 L469.79 218.46 L470.4 218.4 L470.96 218.36 L471.46 218.32 L471.93 218.28 L472.39 218.25 L472.84 218.24 L473.32 218.26 L473.83 218.31 L474.4 218.4 L475.02 218.54 L475.67 218.73 L476.36 218.95 L477.06 219.2 L477.79 219.46 L478.52 219.72 L479.26 219.97 L480 220.2 L480.77 220.42 L481.58 220.66 L482.41 220.9 L483.24 221.14 L484.06 221.36 L484.84 221.55 L485.56 221.7 L486.2 221.8 L486.75 221.85 L487.22 221.86 L487.63 221.83 L488.01 221.78 L488.36 221.7 L488.71 221.6 L489.09 221.5 L489.5 221.4 L489.92 221.3 L490.32 221.18 L490.71 221.06 L491.12 220.93 L491.55 220.77 L492.03 220.6 L492.58 220.41 L493.2 220.2 L493.92 219.95 L494.72 219.66 L495.58 219.34 L496.49 219 L497.42 218.66 L498.37 218.34 L499.3 218.05 L500.2 217.8 L501.08 217.58 L501.97 217.38 L502.86 217.19 L503.75 217.03 L504.64 216.88 L505.53 216.76 L506.42 216.67 L507.3 216.6 L508.19 216.57 L509.08 216.58 L509.98 216.62 L510.87 216.67 L511.75 216.75 L512.62 216.83 L513.47 216.92 L514.3 217 L515.08 217.07 L515.82 217.15 L516.53 217.23 L517.23 217.31 L517.94 217.41 L518.68 217.52 L519.46 217.65 L520.3 217.8 L521.21 217.97 L522.18 218.16 L523.19 218.37 L524.22 218.59 L525.28 218.82 L526.33 219.07 L527.38 219.33 L528.4 219.6 L529.41 219.89 L530.44 220.2 L531.47 220.53 L532.49 220.86 L533.51 221.2 L534.5 221.55 L535.47 221.88 L536.4 222.2 L537.34 222.53 L538.3 222.87 L539.27 223.22 L540.2 223.56 L541.07 223.88 L541.85 224.17 L542.5 224.42 L543 224.6" fill="none" stroke="#0072bd" stroke-width="3.2" stroke-linejoin="round" stroke-linecap="round"/>
<g fill="#0072bd"><circle cx="338.1" cy="318.9" r="1.4"/><circle cx="338.3" cy="300.8" r="1.4"/><circle cx="338.2" cy="296.4" r="1.4"/></g>
<line x1="338.45" y1="216.9" x2="541.9" y2="216.9" stroke="#10e810" stroke-width="1.5" stroke-dasharray="4.3 3.6"/>
<g font-size="11.5"><text x="337.85" y="333.5" text-anchor="middle">0</text><text x="383.33" y="333.5" text-anchor="middle">4</text><text x="428.81" y="333.5" text-anchor="middle">8</text><text x="474.28" y="333.5" text-anchor="middle">1.2</text><text x="519.76" y="333.5" text-anchor="middle">1.6</text><text x="335.25" y="221.4" text-anchor="end">0.237</text><text x="335.25" y="280.7" text-anchor="end">0.1</text></g>
<text x="440.18" y="347" text-anchor="middle" font-size="10.6">(e)</text>
<g><g transform="translate(297.7 331.5) rotate(-90)" font-size="11.0"><text x="0" y="0" textLength="106.7" lengthAdjust="spacing">Initial Angul. Velo. </text><text x="106.7" y="0" textLength="46.6" lengthAdjust="spacing">Bias[°/s]</text></g></g>
<g stroke="#000" stroke-opacity="0.155" stroke-width="1.2" fill="none"><line x1="383.33" y1="363.65" x2="383.33" y2="486.9"/><line x1="428.81" y1="363.65" x2="428.81" y2="486.9"/><line x1="474.28" y1="363.65" x2="474.28" y2="486.9"/><line x1="519.76" y1="363.65" x2="519.76" y2="486.9"/><line x1="337.85" y1="372.9" x2="542.5" y2="372.9"/><line x1="337.85" y1="404" x2="542.5" y2="404"/><line x1="337.85" y1="448.4" x2="542.5" y2="448.4"/></g>
<rect x="337.85" y="363.65" width="204.65" height="123.25" fill="none" stroke="#000" stroke-width="1.7"/>
<path d="M383.33 486.9v-2.8M383.33 363.65v2.8M428.81 486.9v-2.8M428.81 363.65v2.8M474.28 486.9v-2.8M474.28 363.65v2.8M519.76 486.9v-2.8M519.76 363.65v2.8M337.85 372.9h2.8M542.5 372.9h-2.8M337.85 404h2.8M542.5 404h-2.8M337.85 448.4h2.8M542.5 448.4h-2.8" stroke="#000" stroke-width="1.4" fill="none"/>
<path d="M346 447.64 L346.44 447.98 L347.04 447.95 L347.75 448.72 L348.52 448.74 L349.29 449.64 L350 449.88 L350.68 450.59 L351.37 450.79 L352.06 451.4 L352.74 452.14 L353.39 452.83 L354 452.89 L354.56 453.23 L355.07 453.64 L355.56 454.46 L356.04 455.04 L356.51 454.81 L357 455.39 L357.5 455.57 L358 456.38 L358.5 456.04 L359 456.21 L359.5 456.93 L360 457.35 L360.5 457.48 L361.01 457.32 L361.53 457.83 L362.03 458.22 L362.52 458.79 L363 458.98 L363.46 458.8 L363.9 459.4 L364.34 459.95 L364.76 460.07 L365.18 460.38 L365.6 460.73 L366.01 460.77 L366.42 460.64 L366.83 460.35 L367.22 460.02 L367.61 459.75 L368 459.57 L368.38 459.7 L368.75 459.57 L369.12 459.38 L369.48 459.13 L369.84 458.39 L370.2 458.08 L370.56 457.61 L370.91 457.45 L371.27 457.29 L371.62 456.7 L371.96 456.01 L372.3 455.36 L372.63 455.38 L372.94 454.94 L373.25 454.38 L373.56 453.57 L373.87 453.17 L374.2 452.86 L374.55 452.68 L374.91 451.83 L375.29 451.58 L375.65 450.95 L375.99 450.51 L376.3 450.22 L376.57 450.13 L376.8 449.52 L377.01 448.85 L377.21 448.23 L377.4 447.51 L377.6 447.19 L377.8 446.26 L377.99 445.19 L378.18 444.75 L378.36 444.15 L378.53 442.61 L378.7 442.35 L378.86 440.8 L379.02 440.01 L379.17 439.52 L379.31 438.52 L379.46 436.91 L379.6 436.15 L379.74 434.86 L379.87 433.41 L380.01 432.32 L380.14 430.83 L380.27 429.16 L380.4 427.99 L380.53 426.78 L380.67 425.31 L380.8 423.84 L380.93 422.61 L381.07 420.9 L381.2 419.68 L381.33 418.64 L381.46 418.12 L381.58 417.14 L381.71 416.64 L381.85 416.01 L382 414.73 L382.16 414.29 L382.33 413.77 L382.5 413.37 L382.69 413.17 L382.88 412.51 L383.1 411.86 L383.34 411.67 L383.6 410.99 L383.87 410.73 L384.15 410.01 L384.43 409.97 L384.7 409.58 L384.96 409.43 L385.22 409.14 L385.47 408.94 L385.74 408.88 L386.01 408.3 L386.3 408.58 L386.61 408.33 L386.94 408.24 L387.28 407.91 L387.62 407.58 L387.96 408.07 L388.3 407.93 L388.63 407.97 L388.95 407.55 L389.27 407.81 L389.6 407.79 L389.94 407.58 L390.3 407.88 L390.69 407.92 L391.1 407.56 L391.52 407.75 L391.95 408.13 L392.38 408.42 L392.8 408.71 L393.22 408.86 L393.63 409.3 L394.05 409.49 L394.47 409.24 L394.88 409.65 L395.3 410.27 L395.72 410.42 L396.13 410.14 L396.55 410.81 L396.97 410.7 L397.38 411.19 L397.8 411.75 L398.22 411.3 L398.63 412.02 L399.05 411.96 L399.47 412.48 L399.88 412.54 L400.3 412.1 L400.72 412.58 L401.13 412.77 L401.55 412.38 L401.97 412.68 L402.38 412.39 L402.8 412.39 L403.22 412.52 L403.66 412.51 L404.09 413 L404.51 412.56 L404.92 412.82 L405.3 413.09 L405.65 413.56 L405.97 414.17 L406.28 414.4 L406.58 415.1 L406.88 415.16 L407.2 416.11 L407.53 416.48 L407.86 417.82 L408.19 418.52 L408.53 419.02 L408.87 420.14 L409.2 420.22 L409.53 420.13 L409.86 419.5 L410.19 419.53 L410.52 418.61 L410.86 418.21 L411.2 417.1 L411.55 417.04 L411.91 416.34 L412.27 415.96 L412.64 415.53 L413.02 415.19 L413.4 414.8 L413.78 413.82 L414.17 413.88 L414.56 412.94 L414.96 412.46 L415.37 412.26 L415.8 411.85 L416.26 411.74 L416.74 411.1 L417.24 410.48 L417.73 410.34 L418.19 410.13 L418.6 409.8 L418.96 409.9 L419.29 410.32 L419.59 410.31 L419.87 411.26 L420.13 411.16 L420.4 411.48 L420.66 412.46 L420.9 412.51 L421.14 413.13 L421.36 413.71 L421.58 413.77 L421.8 414.15 L422.01 414.03 L422.21 413.59 L422.4 413.58 L422.59 413.06 L422.79 412.46 L423 412.6 L423.22 412.09 L423.44 411.56 L423.66 411.93 L423.9 411.42 L424.14 411.1 L424.4 411.25 L424.67 411.39 L424.96 411.53 L425.26 412.1 L425.57 412.4 L425.88 412.84 L426.2 413.52 L426.52 413.52 L426.84 413.83 L427.17 414.34 L427.51 414.78 L427.85 414.95 L428.2 415.37 L428.55 415.51 L428.9 415.27 L429.26 414.72 L429.63 414.6 L430.01 414.27 L430.4 413.89 L430.82 413.78 L431.27 413.24 L431.72 413.26 L432.18 412.9 L432.61 412.92 L433 412.87 L433.35 412.44 L433.68 413.09 L433.99 412.7 L434.27 413.2 L434.54 413.57 L434.8 414.03 L435.04 413.79 L435.25 414.55 L435.45 414.69 L435.64 414.89 L435.82 415.59 L436 416.4 L436.18 416.72 L436.35 418.09 L436.51 418.44 L436.67 419.51 L436.84 420.51 L437 421.19 L437.15 422.64 L437.28 423.53 L437.41 424.33 L437.56 424.64 L437.75 425.85 L438 426.19 L438.32 426.75 L438.69 427.57 L439.09 427.63 L439.54 428.02 L440.01 429.09 L440.5 429.1 L441.03 429.84 L441.61 430.04 L442.22 430.24 L442.83 430.88 L443.43 430.94 L444 431.01 L444.53 430.92 L445.04 431 L445.53 430.61 L446.02 430.32 L446.51 430.41 L447 430.03 L447.5 429.69 L448 429.1 L448.5 429.19 L449 428.9 L449.5 428.54 L450 428.12 L450.51 427.87 L451.04 427.78 L451.56 427.45 L452.07 427.69 L452.56 427.29 L453 427.42 L453.39 427.76 L453.73 427.95 L454.04 428.08 L454.34 428.6 L454.66 429.25 L455 428.58 L455.37 428.32 L455.76 427.96 L456.16 427.32 L456.57 426.39 L456.98 425.42 L457.4 424.54 L457.81 423.5 L458.2 422.44 L458.6 422 L459.02 420.74 L459.48 420.38 L460 419.04 L460.59 418.09 L461.23 417.86 L461.91 416.37 L462.61 415.76 L463.32 414.53 L464 414.34 L464.69 412.8 L465.39 412.36 L466.1 411.58 L466.79 410.42 L467.43 409.61 L468 409.28 L468.49 409.25 L468.91 409.96 L469.29 410.19 L469.64 410.94 L470.01 411.26 L470.4 411.67 L470.81 411.82 L471.21 412.33 L471.62 413.37 L472.05 413.81 L472.51 413.79 L473 414.21 L473.54 414.1 L474.13 413.56 L474.75 413.15 L475.38 413.13 L476 412.87 L476.6 412.54 L477.19 411.82 L477.8 411.36 L478.4 411.27 L478.98 410.82 L479.52 411.13 L480 410.27 L480.41 410.16 L480.77 409.19 L481.09 409.08 L481.39 408.14 L481.68 407.78 L482 407.07 L482.3 406.66 L482.56 405.64 L482.81 405.13 L483.11 404.84 L483.49 404.79 L484 404.49 L484.66 404.13 L485.44 403.93 L486.31 403.49 L487.22 404.08 L488.13 403.87 L489 403.78 L489.84 403.88 L490.7 403.43 L491.55 403.67 L492.39 403.65 L493.21 403.58 L494 402.92 L494.74 403.08 L495.44 402.87 L496.11 402.28 L496.79 401.51 L497.47 401.5 L498.2 400.32 L498.96 399.7 L499.74 399.31 L500.53 398.22 L501.34 397.11 L502.16 396.51 L503 395.5 L503.87 394.25 L504.77 393.41 L505.69 392.9 L506.6 392.02 L507.48 390.66 L508.3 390.22 L509.06 389.67 L509.76 388.79 L510.44 388.04 L511.09 387.76 L511.74 387.61 L512.4 386.96 L513.08 386.12 L513.79 386.14 L514.48 385.6 L515.15 384.92 L515.76 384.46 L516.3 383.87 L516.75 383.47 L517.13 382.86 L517.45 382.19 L517.74 381.94 L518.02 381.11 L518.3 380.09 L518.58 379.47 L518.84 378.2 L519.08 377.25 L519.32 375.99 L519.56 374.7 L519.8 373.64 L520.02 372.59 L520.2 371.42 L520.38 370.37 L520.6 368.93 L520.89 368.03 L521.3 367.22 L521.84 367.22 L522.47 366.94 L523.19 366.49 L523.95 366.4 L524.73 366.16 L525.5 366.63 L526.29 366.24 L527.11 366.27 L527.96 365.87 L528.81 365.62 L529.63 365.62 L530.4 365.57 L531.12 365.41 L531.8 364.93 L532.46 364.93 L533.1 365.13 L533.74 364.71 L534.4 364.81 L535.09 364.49 L535.81 364.55 L536.52 363.87 L537.21 363.7 L537.85 363.7 L538.4 363.96 L538.86 363.99 L539.24 364.54 L539.56 364.75 L539.85 364.4 L540.12 365.22 L540.4 365.41 L540.67 366.15 L540.92 366.42 L541.15 367.38 L541.37 367.58 L541.59 368.68 L541.8 369.38 L542.03 370.24 L542.26 371.32 L542.49 372.5 L542.7 373.59 L542.87 374.49 L543 375.26" fill="none" stroke="#0072bd" stroke-width="2.9" stroke-linejoin="round" stroke-linecap="round"/>
<path d="M338.6 447.99 L338.82 450.48 L339.04 445.45 L339.26 438.44 L339.48 444.18 L339.7 441.95 L339.92 438.71 L340.14 440.55 L340.36 439.04 L340.58 444.31 L340.8 436.84 L341.02 444.7 L341.24 442.79 L341.46 436.81 L341.68 441.14 L341.9 451.46 L342.12 445.91 L342.34 438.95 L342.56 446.13 L342.78 447.9 L343 440.77 L343.22 444.36 L343.44 442.29 L343.66 446.35 L343.88 449.63 L344.1 443.32 L344.32 442.43 L344.54 442.63 L344.76 447.84 L344.98 442.32 L345.2 447.21 L345.42 450.23 L345.64 449.9 L345.86 449.07 L346.08 442.81 L346.3 447.04 L346.52 445.41 L346.74 448.1 L346.96 444.92 L347.18 444.96 L347.4 452.37 L347.62 451.83 L347.84 445.2 L348.06 451.55 L348.28 445.33 L348.5 447.75 L348.72 453.16 L348.94 452.81 L349.16 449.22 L349.38 451.15 L349.6 448.88 L349.82 452.44 L350.04 448.71 L350.26 448.13 L350.48 447.9 L350.7 451.41 L350.92 451.07 L351.14 453.48 L351.36 448.77 L351.58 453.09 L351.8 454.07 L352.02 452.99 L352.24 449.43 L352.46 449.86 L352.68 449.71 L352.9 451.27 L353.12 453.72 L353.34 450.66 L353.56 452.41 L353.78 450.59 L354 453.86 L354.22 451.29 L354.44 454.73 L354.66 454.06 L354.88 452.35 L355.1 454.79 L355.32 453.45 L355.54 454.38 L355.76 454.7 L355.98 453.72 L356.2 454.5 L356.42 456.14 L356.64 456.6 L356.86 456.69 L357.08 455.79 L357.3 456.99 L357.52 454.5 L357.74 457.53 L357.96 454.46 L358.18 457.39 L358.4 457.13 L358.62 455.97 L358.84 457.3 L359.06 457.88 L359.28 455.68 L359.5 457.17 L359.72 455.52 L359.94 457.4 L360.16 455.95 L360.38 457.63 L360.6 456.13 L360.82 457.2 L361.04 458.46 L361.26 457.2 L361.48 458.92 L361.7 457.84 L361.92 457.28 L362.14 459.15 L362.36 457.47 L362.58 458.59 L362.8 459.48 L363.02 459.58 L363.24 458.83 L363.46 458.19 L363.68 458.9 L363.9 458.56 L364.12 458.71 L364.34 458.82 L364.56 458.69 L364.78 458.47 L365 459.96 L365.22 458.64 L365.44 459.8 L365.66 459.52 L365.88 460.13 L366.1 460.1 L366.32 459.9 L366.54 460.31 L366.76 459.84 L366.98 460.28 L367.2 459.64 L367.42 460 L367.64 459.86 L367.86 459.49 L368.08 458.8 L368.3 458.93 L368.52 458.21 L368.74 459.06 L368.96 458.83 L369.18 458.96 L369.4 457.83 L369.62 457.79 L369.84 458.37 L370.06 458.37 L370.28 457.35 L370.5 456.99 L370.72 457.05 L370.94 456.76 L371.16 456.12 L371.38 455.87 L371.6 455.68 L371.82 455.18 L372.04 455.02 L372.26 454.59 L372.48 454.63 L372.7 454.69 L372.92 454.29 L373.14 453.92 L373.36 453.48 L373.58 452.93 L373.8 452.51" fill="none" stroke="#0072bd" stroke-width="2.3" stroke-linejoin="round" stroke-linecap="round"/>
<g fill="#0072bd"><circle cx="339" cy="415" r="1.2"/><circle cx="339.2" cy="418.3" r="1.2"/><circle cx="338.8" cy="426" r="1.2"/><circle cx="339.3" cy="428.5" r="1.2"/><circle cx="338.6" cy="432" r="1.2"/><circle cx="339.5" cy="435" r="1.2"/><circle cx="338.7" cy="456" r="1.2"/><circle cx="339.2" cy="453" r="1.2"/></g>
<line x1="338.45" y1="404.1" x2="541.9" y2="404.1" stroke="#10e810" stroke-width="1.5" stroke-dasharray="4.3 3.6"/>
<g font-size="11.5"><text x="337.85" y="500.1" text-anchor="middle">0</text><text x="383.33" y="500.1" text-anchor="middle">4</text><text x="428.81" y="500.1" text-anchor="middle">8</text><text x="474.28" y="500.1" text-anchor="middle">1.2</text><text x="519.76" y="500.1" text-anchor="middle">1.6</text><text x="335.25" y="377.4" text-anchor="end">0.2</text><text x="335.25" y="408.2" text-anchor="end">0.159</text><text x="335.25" y="452.6" text-anchor="end">0.1</text></g>
<text x="440.18" y="513.5" text-anchor="middle" font-size="10.6">(f)</text>
<g clip-path="url(#clipc)"><g transform="translate(297.7 502.7) rotate(-90)" font-size="10.1"><text x="0" y="0" textLength="108.4" lengthAdjust="spacing">Initial Angul. Velo. </text><text x="108.4" y="0" textLength="47.4" lengthAdjust="spacing">Bias[°/s]</text></g></g>
<text x="440.18" y="531" text-anchor="middle" font-size="11.0" textLength="112.8" lengthAdjust="spacing">Interval Time [10<tspan dy="-5.1" font-size="8.4">2</tspan><tspan dy="5.1">s]</tspan></text>
</svg>
</body></html>
